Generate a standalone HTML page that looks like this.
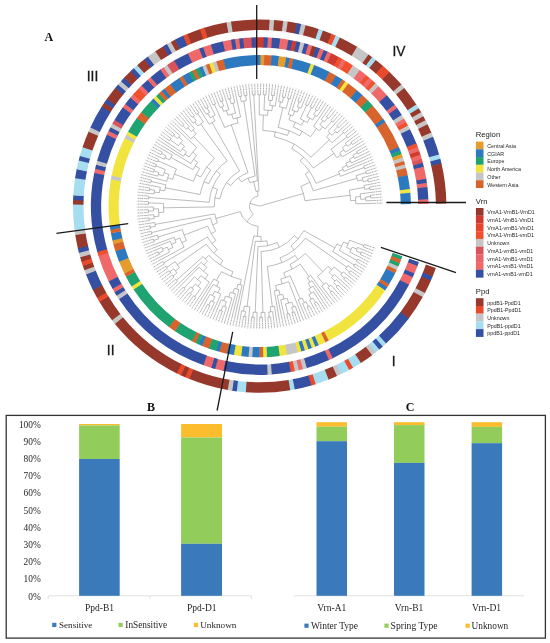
<!DOCTYPE html>
<html lang="en"><head><meta charset="utf-8"><title>Figure</title>
<style>
html,body{margin:0;padding:0;background:#fff;}
body{width:550px;height:643px;overflow:hidden;}
svg{display:block;font-family:"Liberation Sans",sans-serif;}
</style></head><body>
<svg width="550" height="643" viewBox="0 0 550 643">
<rect width="550" height="643" fill="#fff"/>
<g id="tree">
<path d="M259.7 206.1L249.9 203.4M253.3 213.9A10.1 10.1 0 0 1 258.2 196.1M253.3 213.9L246.9 221.8M258.1 226.3A20.2 20.2 0 0 1 240.2 211.6M258.1 226.3L257.3 236.4M260.9 236.4A30.4 30.4 0 0 1 253.8 235.9M260.9 236.4L261.1 241.5M266.8 240.8A35.4 35.4 0 0 1 255.3 241.2M266.8 240.8L267.8 245.8M277.2 242.6A40.5 40.5 0 0 1 258.0 246.6M277.2 242.6L279.4 247.2M294.4 235.6A45.5 45.5 0 0 1 261.1 251.6M294.4 235.6L298.2 238.9M303.9 230.7A50.6 50.6 0 0 1 291.0 245.9M303.9 230.7L334.9 247.9M336.9 244.0A86.0 86.0 0 0 1 332.7 251.6M336.9 244.0L341.5 246.2M343.5 241.9A91.1 91.1 0 0 1 339.3 250.5M343.5 241.9L348.1 243.8M349.6 240.2A96.2 96.2 0 0 1 346.5 247.5M349.6 240.2L363.8 245.5M364.3 244.3A111.3 111.3 0 0 1 363.3 246.8M364.3 244.3L369.0 246.0M363.3 246.8L368.0 248.7M346.5 247.5L351.1 249.6M352.2 247.1A101.2 101.2 0 0 1 349.8 252.1M352.2 247.1L356.9 249.2M357.6 247.4A106.3 106.3 0 0 1 356.1 250.9M357.6 247.4L367.0 251.3M356.1 250.9L360.7 253.1M361.2 251.8A111.3 111.3 0 0 1 360.1 254.3M361.2 251.8L365.8 253.9M360.1 254.3L364.6 256.5M349.8 252.1L363.4 259.0M339.3 250.5L356.9 260.3M357.6 259.1A111.3 111.3 0 0 1 356.3 261.5M357.6 259.1L362.0 261.5M356.3 261.5L360.7 264.0M332.7 251.6L354.2 265.0M354.9 263.8A111.3 111.3 0 0 1 353.5 266.2M354.9 263.8L359.2 266.5M353.5 266.2L357.7 268.9M291.0 245.9L294.1 249.9M305.3 238.1A55.7 55.7 0 0 1 280.0 257.9M305.3 238.1L346.7 267.2M347.8 265.6A106.3 106.3 0 0 1 345.5 268.8M347.8 265.6L356.2 271.3M345.5 268.8L349.6 271.8M350.4 270.7A111.3 111.3 0 0 1 348.8 272.9M350.4 270.7L354.5 273.6M348.8 272.9L352.9 275.9M280.0 257.9L281.9 262.6M295.1 255.4A60.7 60.7 0 0 1 267.3 266.4M295.1 255.4L298.1 259.5M305.4 253.5A65.8 65.8 0 0 1 290.0 264.5M305.4 253.5L322.9 271.7M328.0 266.4A91.1 91.1 0 0 1 317.5 276.5M328.0 266.4L331.7 269.8M334.1 267.0A96.2 96.2 0 0 1 329.3 272.5M334.1 267.0L342.0 273.4M343.2 271.9A106.3 106.3 0 0 1 340.7 274.9M343.2 271.9L351.1 278.1M340.7 274.9L344.6 278.2M345.4 277.1A111.3 111.3 0 0 1 343.7 279.2M345.4 277.1L349.3 280.4M343.7 279.2L347.5 282.5M329.3 272.5L332.9 276.0M334.4 274.4A101.2 101.2 0 0 1 331.4 277.5M334.4 274.4L345.6 284.6M331.4 277.5L335.0 281.1M336.4 279.7A106.3 106.3 0 0 1 333.6 282.5M336.4 279.7L343.7 286.7M333.6 282.5L337.1 286.1M338.1 285.1A111.3 111.3 0 0 1 336.2 287.0M338.1 285.1L341.7 288.7M336.2 287.0L339.6 290.7M317.5 276.5L323.9 284.4M326.0 282.6A101.2 101.2 0 0 1 321.7 286.1M326.0 282.6L329.3 286.4M330.8 285.1A106.3 106.3 0 0 1 327.8 287.7M330.8 285.1L337.5 292.6M327.8 287.7L331.1 291.6M332.1 290.7A111.3 111.3 0 0 1 330.0 292.4M332.1 290.7L335.4 294.5M330.0 292.4L333.2 296.3M321.7 286.1L331.0 298.1M290.0 264.5L292.3 269.0M300.3 264.2A70.9 70.9 0 0 1 283.8 272.7M300.3 264.2L309.0 276.6M310.7 275.4A86.0 86.0 0 0 1 307.2 277.8M310.7 275.4L328.7 299.8M307.2 277.8L310.0 282.0M311.9 280.7A91.1 91.1 0 0 1 308.1 283.3M311.9 280.7L326.4 301.5M308.1 283.3L310.8 287.6M312.9 286.2A96.2 96.2 0 0 1 308.7 288.9M312.9 286.2L324.1 303.1M308.7 288.9L311.2 293.2M313.6 291.8A101.2 101.2 0 0 1 308.8 294.6M313.6 291.8L321.7 304.6M308.8 294.6L311.3 299.0M313.0 298.1A106.3 106.3 0 0 1 309.6 300.0M313.0 298.1L315.5 302.4M316.7 301.8A111.3 111.3 0 0 1 314.3 303.1M316.7 301.8L319.3 306.1M314.3 303.1L316.8 307.5M309.6 300.0L314.3 308.9M283.8 272.7L285.5 277.5M290.1 275.7A75.9 75.9 0 0 1 280.8 279.0M290.1 275.7L300.2 298.8M302.2 298.0A101.2 101.2 0 0 1 298.2 299.7M302.2 298.0L304.3 302.6M306.1 301.7A106.3 106.3 0 0 1 302.6 303.4M306.1 301.7L308.3 306.3M309.5 305.7A111.3 111.3 0 0 1 307.1 306.9M309.5 305.7L311.8 310.2M307.1 306.9L309.2 311.4M302.6 303.4L306.6 312.6M298.2 299.7L304.0 313.7M280.8 279.0L282.2 283.9M288.7 281.7A81.0 81.0 0 0 1 275.6 285.5M288.7 281.7L301.4 314.8M275.6 285.5L276.6 290.5M278.9 290.0A86.0 86.0 0 0 1 274.3 290.9M278.9 290.0L280.0 294.9M282.7 294.3A91.1 91.1 0 0 1 277.4 295.5M282.7 294.3L283.9 299.2M287.2 298.2A96.2 96.2 0 0 1 280.7 299.9M287.2 298.2L288.6 303.1M291.9 302.1A101.2 101.2 0 0 1 285.4 304.0M291.9 302.1L293.5 306.9M295.3 306.2A106.3 106.3 0 0 1 291.6 307.5M295.3 306.2L298.7 315.8M291.6 307.5L293.2 312.3M294.5 311.9A111.3 111.3 0 0 1 291.9 312.7M294.5 311.9L296.0 316.7M291.9 312.7L293.3 317.5M285.4 304.0L287.9 313.8M289.2 313.4A111.3 111.3 0 0 1 286.6 314.1M289.2 313.4L290.6 318.3M286.6 314.1L287.8 319.0M280.7 299.9L285.1 319.7M277.4 295.5L282.3 320.3M274.3 290.9L279.5 320.8M267.3 266.4L272.3 306.5M274.5 306.2A101.2 101.2 0 0 1 270.2 306.8M274.5 306.2L276.7 321.3M270.2 306.8L270.7 311.8M272.6 311.6A106.3 106.3 0 0 1 268.8 312.0M272.6 311.6L273.9 321.6M268.8 312.0L269.2 317.0M270.6 316.9A111.3 111.3 0 0 1 267.9 317.1M270.6 316.9L271.1 321.9M267.9 317.1L268.2 322.2M261.1 251.6L262.9 312.3M264.9 312.3A106.3 106.3 0 0 1 261.0 312.4M264.9 312.3L265.4 322.4M261.0 312.4L261.1 317.4M262.4 317.4A111.3 111.3 0 0 1 259.7 317.4M262.4 317.4L262.5 322.5M259.7 317.4L259.7 322.5M258.0 246.6L255.2 312.3M257.1 312.3A106.3 106.3 0 0 1 253.2 312.2M257.1 312.3L256.9 322.5M253.2 312.2L252.9 317.2M254.3 317.3A111.3 111.3 0 0 1 251.6 317.1M254.3 317.3L254.0 322.4M251.6 317.1L251.2 322.2M255.3 241.2L247.1 306.5M249.8 306.8A101.2 101.2 0 0 1 244.3 306.1M249.8 306.8L248.4 321.9M244.3 306.1L243.5 311.1M245.5 311.4A106.3 106.3 0 0 1 241.6 310.8M245.5 311.4L244.8 316.4M246.1 316.6A111.3 111.3 0 0 1 243.5 316.2M246.1 316.6L245.5 321.6M243.5 316.2L242.7 321.3M241.6 310.8L239.9 320.8M253.8 235.9L237.1 320.3M240.2 211.6L215.9 218.5M217.4 222.9A45.5 45.5 0 0 1 214.8 213.9M217.4 222.9L212.7 224.8M215.7 231.1A50.6 50.6 0 0 1 210.5 218.1M215.7 231.1L211.3 233.6M215.9 240.5A55.7 55.7 0 0 1 207.7 226.1M215.9 240.5L211.9 243.6M217.3 249.6A60.7 60.7 0 0 1 207.4 237.0M217.3 249.6L213.8 253.2M222.9 260.6A65.8 65.8 0 0 1 206.1 244.3M222.9 260.6L220.1 264.8M233.0 271.7A70.9 70.9 0 0 1 208.8 255.4M233.0 271.7L231.1 276.4M241.3 279.7A75.9 75.9 0 0 1 221.5 271.7M241.3 279.7L240.0 284.6M242.1 285.1A81.0 81.0 0 0 1 238.0 284.1M242.1 285.1L234.3 319.7M238.0 284.1L236.7 289.0M238.9 289.6A86.0 86.0 0 0 1 234.4 288.3M238.9 289.6L231.6 319.0M234.4 288.3L232.9 293.2M235.5 293.9A91.1 91.1 0 0 1 230.3 292.3M235.5 293.9L228.8 318.3M230.3 292.3L228.7 297.1M231.9 298.2A96.2 96.2 0 0 1 225.5 296.0M231.9 298.2L226.1 317.5M225.5 296.0L223.7 300.7M226.4 301.7A101.2 101.2 0 0 1 221.2 299.7M226.4 301.7L224.7 306.4M226.5 307.1A106.3 106.3 0 0 1 222.9 305.8M226.5 307.1L223.4 316.7M222.9 305.8L221.1 310.5M222.4 311.0A111.3 111.3 0 0 1 219.8 310.1M222.4 311.0L220.7 315.8M219.8 310.1L218.0 314.8M221.2 299.7L215.4 313.7M221.5 271.7L216.4 280.4M218.9 281.9A86.0 86.0 0 0 1 213.9 278.9M218.9 281.9L216.5 286.3M220.1 288.1A91.1 91.1 0 0 1 213.1 284.4M220.1 288.1L217.9 292.7M220.9 294.1A96.2 96.2 0 0 1 214.8 291.2M220.9 294.1L212.8 312.6M214.8 291.2L212.5 295.6M215.0 296.9A101.2 101.2 0 0 1 210.0 294.3M215.0 296.9L212.7 301.4M214.5 302.3A106.3 106.3 0 0 1 211.0 300.6M214.5 302.3L210.2 311.4M211.0 300.6L208.7 305.1M209.9 305.7A111.3 111.3 0 0 1 207.5 304.4M209.9 305.7L207.6 310.2M207.5 304.4L205.1 308.9M210.0 294.3L202.6 307.5M213.1 284.4L200.1 306.1M213.9 278.9L197.7 304.6M208.8 255.4L205.2 259.0M207.5 261.2A75.9 75.9 0 0 1 203.1 256.6M207.5 261.2L204.0 264.8M206.8 267.4A81.0 81.0 0 0 1 201.3 262.2M206.8 267.4L203.5 271.2M208.1 274.9A86.0 86.0 0 0 1 199.1 267.2M208.1 274.9L205.1 279.0M209.3 282.0A91.1 91.1 0 0 1 201.0 275.7M209.3 282.0L195.3 303.1M201.0 275.7L197.7 279.6M201.0 282.3A96.2 96.2 0 0 1 194.5 276.8M201.0 282.3L197.9 286.3M200.7 288.3A101.2 101.2 0 0 1 195.3 284.2M200.7 288.3L194.8 296.5M195.9 297.3A111.3 111.3 0 0 1 193.7 295.7M195.9 297.3L193.0 301.5M193.7 295.7L190.7 299.8M195.3 284.2L192.1 288.1M193.6 289.3A106.3 106.3 0 0 1 190.6 286.8M193.6 289.3L190.4 293.3M191.5 294.1A111.3 111.3 0 0 1 189.4 292.4M191.5 294.1L188.4 298.1M189.4 292.4L186.2 296.3M190.6 286.8L184.0 294.5M194.5 276.8L184.2 288.0M185.2 288.9A111.3 111.3 0 0 1 183.2 287.0M185.2 288.9L181.9 292.6M183.2 287.0L179.8 290.7M199.1 267.2L177.7 288.7M201.3 262.2L175.7 286.7M203.1 256.6L176.6 280.2M177.5 281.2A111.3 111.3 0 0 1 175.7 279.2M177.5 281.2L173.8 284.6M175.7 279.2L171.9 282.5M206.1 244.3L177.2 264.8M179.4 267.8A101.2 101.2 0 0 1 175.1 261.7M179.4 267.8L175.4 270.9M177.0 272.9A106.3 106.3 0 0 1 173.9 268.8M177.0 272.9L173.1 276.1M174.0 277.1A111.3 111.3 0 0 1 172.3 275.0M174.0 277.1L170.1 280.4M172.3 275.0L168.3 278.1M173.9 268.8L169.8 271.8M170.6 272.9A111.3 111.3 0 0 1 169.0 270.7M170.6 272.9L166.5 275.9M169.0 270.7L164.9 273.6M175.1 261.7L166.7 267.3M167.4 268.4A111.3 111.3 0 0 1 165.9 266.2M167.4 268.4L163.2 271.3M165.9 266.2L161.7 268.9M207.4 237.0L163.8 262.7M164.5 263.9A111.3 111.3 0 0 1 163.1 261.5M164.5 263.9L160.2 266.5M163.1 261.5L158.7 264.0M207.7 226.1L184.1 235.1M186.4 240.5A81.0 81.0 0 0 1 182.2 229.6M186.4 240.5L181.8 242.6M184.1 247.1A86.0 86.0 0 0 1 179.8 238.0M184.1 247.1L157.4 261.5M179.8 238.0L175.1 239.9M176.1 242.4A91.1 91.1 0 0 1 174.1 237.3M176.1 242.4L171.5 244.4M172.9 247.5A96.2 96.2 0 0 1 170.2 241.3M172.9 247.5L168.3 249.6M169.6 252.1A101.2 101.2 0 0 1 167.2 247.1M169.6 252.1L156.0 259.0M167.2 247.1L162.5 249.2M163.3 250.9A106.3 106.3 0 0 1 161.8 247.4M163.3 250.9L158.8 253.1M159.3 254.3A111.3 111.3 0 0 1 158.2 251.8M159.3 254.3L154.8 256.5M158.2 251.8L153.6 253.9M161.8 247.4L152.4 251.3M170.2 241.3L151.4 248.7M174.1 237.3L150.4 246.0M182.2 229.6L158.0 237.0M158.6 238.9A106.3 106.3 0 0 1 157.5 235.1M158.6 238.9L153.8 240.4M154.2 241.7A111.3 111.3 0 0 1 153.4 239.1M154.2 241.7L149.4 243.3M153.4 239.1L148.5 240.6M157.5 235.1L147.7 237.9M210.5 218.1L151.6 232.6M151.9 233.9A111.3 111.3 0 0 1 151.2 231.3M151.9 233.9L147.0 235.2M151.2 231.3L146.3 232.4M214.8 213.9L155.0 224.4M155.4 226.3A106.3 106.3 0 0 1 154.7 222.5M155.4 226.3L150.4 227.3M150.7 228.6A111.3 111.3 0 0 1 150.1 225.9M150.7 228.6L145.7 229.6M150.1 225.9L145.2 226.8M154.7 222.5L144.7 224.0M258.2 196.1L257.5 191.1M256.0 191.4A15.2 15.2 0 0 1 258.9 190.9M256.0 191.4L253.6 181.5M249.9 182.8A25.3 25.3 0 0 1 257.4 180.9M249.9 182.8L247.9 178.1M241.4 181.8A30.4 30.4 0 0 1 255.1 176.1M241.4 181.8L238.4 177.8M230.8 185.6A35.4 35.4 0 0 1 248.0 172.7M230.8 185.6L226.7 182.7M219.9 198.8A40.5 40.5 0 0 1 239.6 170.9M219.9 198.8L214.9 197.9M214.2 206.9A45.5 45.5 0 0 1 217.4 189.3M214.2 206.9L163.6 207.8M163.7 212.2A96.2 96.2 0 0 1 163.6 203.4M163.7 212.2L158.7 212.5M159.0 216.2A101.2 101.2 0 0 1 158.5 208.8M159.0 216.2L153.9 216.7M154.2 218.6A106.3 106.3 0 0 1 153.8 214.7M154.2 218.6L149.1 219.2M149.3 220.6A111.3 111.3 0 0 1 149.0 217.9M149.3 220.6L144.3 221.2M149.0 217.9L144.0 218.4M153.8 214.7L143.7 215.6M158.5 208.8L153.5 208.9M153.5 210.9A106.3 106.3 0 0 1 153.4 207.0M153.5 210.9L148.5 211.1M148.5 212.4A111.3 111.3 0 0 1 148.4 209.7M148.5 212.4L143.5 212.7M148.4 209.7L143.4 209.9M153.4 207.0L143.3 207.1M163.6 203.4L148.4 202.9M148.4 204.3A111.3 111.3 0 0 1 148.5 201.6M148.4 204.3L143.3 204.2M148.5 201.6L143.4 201.4M217.4 189.3L212.7 187.4M209.2 202.2A50.6 50.6 0 0 1 220.4 174.3M209.2 202.2L148.7 197.5M148.6 198.9A111.3 111.3 0 0 1 148.8 196.1M148.6 198.9L143.5 198.5M148.8 196.1L143.8 195.7M220.4 174.3L216.4 171.1M208.7 183.7A55.7 55.7 0 0 1 227.2 160.9M208.7 183.7L204.1 181.7M200.1 194.5A60.7 60.7 0 0 1 210.8 170.1M200.1 194.5L165.3 187.8M164.8 190.8A96.2 96.2 0 0 1 165.9 184.8M164.8 190.8L159.8 190.0M159.4 192.8A101.2 101.2 0 0 1 160.3 187.3M159.4 192.8L154.3 192.1M154.1 194.0A106.3 106.3 0 0 1 154.6 190.2M154.1 194.0L144.1 192.9M154.6 190.2L149.6 189.4M149.4 190.7A111.3 111.3 0 0 1 149.8 188.1M149.4 190.7L144.4 190.0M149.8 188.1L144.8 187.2M160.3 187.3L145.3 184.4M165.9 184.8L151.1 181.4M150.8 182.7A111.3 111.3 0 0 1 151.4 180.1M150.8 182.7L145.9 181.7M151.4 180.1L146.5 178.9M210.8 170.1L206.7 167.1M200.7 177.0A65.8 65.8 0 0 1 214.4 158.4M200.7 177.0L196.2 174.7M193.4 181.2A70.9 70.9 0 0 1 199.6 168.5M193.4 181.2L174.4 174.1M172.6 179.3A91.1 91.1 0 0 1 176.5 169.0M172.6 179.3L167.8 177.8M166.8 181.3A96.2 96.2 0 0 1 168.9 174.3M166.8 181.3L147.2 176.1M168.9 174.3L164.2 172.7M163.1 175.9A101.2 101.2 0 0 1 165.3 169.5M163.1 175.9L158.3 174.4M157.7 176.2A106.3 106.3 0 0 1 158.9 172.5M157.7 176.2L148.0 173.4M158.9 172.5L154.1 170.9M153.6 172.2A111.3 111.3 0 0 1 154.5 169.6M153.6 172.2L148.8 170.7M154.5 169.6L149.7 168.0M165.3 169.5L155.9 165.8M155.4 167.1A111.3 111.3 0 0 1 156.4 164.5M155.4 167.1L150.7 165.3M156.4 164.5L151.7 162.7M176.5 169.0L158.0 160.8M157.5 162.0A111.3 111.3 0 0 1 158.6 159.6M157.5 162.0L152.8 160.0M158.6 159.6L154.0 157.4M199.6 168.5L195.3 165.9M193.1 169.6A75.9 75.9 0 0 1 197.7 162.3M193.1 169.6L170.9 157.4M169.6 159.9A101.2 101.2 0 0 1 172.3 155.0M169.6 159.9L165.1 157.6M164.3 159.3A106.3 106.3 0 0 1 166.0 155.9M164.3 159.3L155.2 154.9M166.0 155.9L161.6 153.5M161.0 154.7A111.3 111.3 0 0 1 162.2 152.3M161.0 154.7L156.5 152.3M162.2 152.3L157.8 149.8M172.3 155.0L159.2 147.4M197.7 162.3L193.6 159.3M190.8 163.5A81.0 81.0 0 0 1 196.6 155.3M190.8 163.5L160.7 144.9M196.6 155.3L192.7 152.1M189.1 157.0A86.0 86.0 0 0 1 196.7 147.5M189.1 157.0L184.9 154.1M183.4 156.3A91.1 91.1 0 0 1 186.5 151.9M183.4 156.3L162.2 142.5M186.5 151.9L182.4 148.9M180.5 151.6A96.2 96.2 0 0 1 184.5 146.2M180.5 151.6L163.8 140.2M184.5 146.2L180.5 143.1M178.4 145.7A101.2 101.2 0 0 1 182.7 140.4M178.4 145.7L170.3 139.7M169.5 140.8A111.3 111.3 0 0 1 171.1 138.6M169.5 140.8L165.4 137.8M171.1 138.6L167.1 135.6M182.7 140.4L178.8 137.1M177.6 138.6A106.3 106.3 0 0 1 180.1 135.7M177.6 138.6L173.7 135.4M172.8 136.5A111.3 111.3 0 0 1 174.5 134.4M172.8 136.5L168.9 133.3M174.5 134.4L170.7 131.1M180.1 135.7L172.5 129.0M196.7 147.5L174.4 126.9M214.4 158.4L193.5 136.4M190.9 138.9A96.2 96.2 0 0 1 196.2 133.9M190.9 138.9L176.4 124.8M196.2 133.9L192.9 130.1M191.2 131.5A101.2 101.2 0 0 1 194.5 128.7M191.2 131.5L187.8 127.8M186.4 129.1A106.3 106.3 0 0 1 189.3 126.5M186.4 129.1L182.9 125.5M181.9 126.4A111.3 111.3 0 0 1 183.9 124.5M181.9 126.4L178.4 122.8M183.9 124.5L180.5 120.8M189.3 126.5L182.6 118.9M194.5 128.7L184.7 117.1M227.2 160.9L200.6 123.9M197.9 126.0A101.2 101.2 0 0 1 203.4 122.0M197.9 126.0L194.8 122.0M193.2 123.2A106.3 106.3 0 0 1 196.3 120.8M193.2 123.2L186.9 115.3M196.3 120.8L193.3 116.7M192.2 117.5A111.3 111.3 0 0 1 194.4 115.9M192.2 117.5L189.2 113.5M194.4 115.9L191.4 111.8M203.4 122.0L197.7 113.6M196.6 114.4A111.3 111.3 0 0 1 198.9 112.8M196.6 114.4L193.8 110.2M198.9 112.8L196.1 108.6M239.6 170.9L212.1 122.6M209.2 124.3A96.2 96.2 0 0 1 215.0 121.0M209.2 124.3L198.5 107.1M215.0 121.0L212.7 116.5M210.2 117.8A101.2 101.2 0 0 1 215.1 115.2M210.2 117.8L207.7 113.4M206.1 114.4A106.3 106.3 0 0 1 209.5 112.4M206.1 114.4L201.0 105.6M209.5 112.4L207.1 108.0M205.9 108.6A111.3 111.3 0 0 1 208.3 107.4M205.9 108.6L203.4 104.2M208.3 107.4L205.9 102.9M215.1 115.2L208.5 101.6M248.0 172.7L231.3 124.9M224.7 127.5A86.0 86.0 0 0 1 238.1 122.8M224.7 127.5L214.4 104.4M213.1 105.0A111.3 111.3 0 0 1 215.6 103.9M213.1 105.0L211.0 100.4M215.6 103.9L213.6 99.2M238.1 122.8L236.8 117.9M233.2 119.0A91.1 91.1 0 0 1 240.6 117.0M233.2 119.0L231.7 114.1M227.9 115.3A96.2 96.2 0 0 1 235.5 113.0M227.9 115.3L226.3 110.6M223.6 111.5A101.2 101.2 0 0 1 228.9 109.7M223.6 111.5L221.8 106.8M220.0 107.5A106.3 106.3 0 0 1 223.7 106.1M220.0 107.5L216.2 98.1M223.7 106.1L221.9 101.4M220.7 101.8A111.3 111.3 0 0 1 223.2 100.9M220.7 101.8L218.9 97.1M223.2 100.9L221.6 96.1M228.9 109.7L224.3 95.2M235.5 113.0L233.0 103.2M231.1 103.7A106.3 106.3 0 0 1 234.8 102.8M231.1 103.7L229.7 98.9M228.4 99.2A111.3 111.3 0 0 1 231.0 98.5M228.4 99.2L227.0 94.4M231.0 98.5L229.7 93.6M234.8 102.8L232.5 92.9M240.6 117.0L235.2 92.3M255.1 176.1L243.8 101.0M241.2 101.4A106.3 106.3 0 0 1 246.3 100.7M241.2 101.4L240.3 96.5M239.0 96.7A111.3 111.3 0 0 1 241.7 96.2M239.0 96.7L238.0 91.7M241.7 96.2L240.8 91.2M246.3 100.7L245.7 95.6M244.3 95.8A111.3 111.3 0 0 1 247.0 95.5M244.3 95.8L243.6 90.8M247.0 95.5L246.5 90.5M257.4 180.9L249.3 90.2M258.9 190.9L253.8 94.9M252.5 95.0A111.3 111.3 0 0 1 255.2 94.9M252.5 95.0L252.1 89.9M255.2 94.9L255.0 89.8M259.7 206.1L303.5 193.4M300.8 186.5A45.5 45.5 0 0 1 304.9 200.7M300.8 186.5L310.0 182.1M305.3 174.1A55.7 55.7 0 0 1 313.2 190.8M305.3 174.1L309.4 171.2M300.2 160.9A60.7 60.7 0 0 1 316.0 183.3M300.2 160.9L303.6 157.1M291.7 148.6A65.8 65.8 0 0 1 313.3 168.0M291.7 148.6L294.2 144.2M274.3 136.8A70.9 70.9 0 0 1 311.0 157.2M274.3 136.8L275.3 131.8M262.8 130.3A75.9 75.9 0 0 1 287.4 135.4M262.8 130.3L263.4 115.1M259.3 115.0A91.1 91.1 0 0 1 267.5 115.3M259.3 115.0L259.2 94.8M257.9 94.8A111.3 111.3 0 0 1 260.6 94.8M257.9 94.8L257.8 89.7M260.6 94.8L260.6 89.7M267.5 115.3L268.0 110.3M264.0 110.0A96.2 96.2 0 0 1 271.9 110.7M264.0 110.0L264.7 94.9M263.3 94.8A111.3 111.3 0 0 1 266.0 94.9M263.3 94.8L263.5 89.8M266.0 94.9L266.3 89.9M271.9 110.7L272.5 105.7M269.8 105.4A101.2 101.2 0 0 1 275.3 106.1M269.8 105.4L270.3 100.3M268.3 100.2A106.3 106.3 0 0 1 272.2 100.6M268.3 100.2L269.2 90.1M272.2 100.6L272.8 95.5M271.5 95.4A111.3 111.3 0 0 1 274.2 95.7M271.5 95.4L272.0 90.4M274.2 95.7L274.8 90.7M275.3 106.1L277.6 91.1M287.4 135.4L289.3 130.7M278.2 127.3A81.0 81.0 0 0 1 299.7 135.7M278.2 127.3L282.9 107.6M279.5 106.8A101.2 101.2 0 0 1 286.2 108.4M279.5 106.8L280.5 101.9M278.6 101.5A106.3 106.3 0 0 1 282.4 102.3M278.6 101.5L280.4 91.6M282.4 102.3L283.5 97.3M282.2 97.1A111.3 111.3 0 0 1 284.9 97.6M282.2 97.1L283.2 92.1M284.9 97.6L286.0 92.7M286.2 108.4L288.8 98.6M287.5 98.3A111.3 111.3 0 0 1 290.1 99.0M287.5 98.3L288.8 93.4M290.1 99.0L291.5 94.1M299.7 135.7L302.2 131.3M293.3 126.9A86.0 86.0 0 0 1 310.5 136.7M293.3 126.9L295.3 122.3M289.0 119.8A91.1 91.1 0 0 1 301.5 125.2M289.0 119.8L290.6 115.0M288.2 114.3A96.2 96.2 0 0 1 292.9 115.9M288.2 114.3L294.2 94.9M292.9 115.9L294.7 111.1M292.1 110.2A101.2 101.2 0 0 1 297.3 112.1M292.1 110.2L296.9 95.8M297.3 112.1L299.2 107.4M297.4 106.7A106.3 106.3 0 0 1 301.0 108.2M297.4 106.7L299.1 102.0M297.9 101.5A111.3 111.3 0 0 1 300.4 102.5M297.9 101.5L299.6 96.8M300.4 102.5L302.3 97.8M301.0 108.2L304.9 98.8M301.5 125.2L303.8 120.7M300.3 118.9A96.2 96.2 0 0 1 307.3 122.5M300.3 118.9L306.7 105.1M305.4 104.6A111.3 111.3 0 0 1 307.9 105.7M305.4 104.6L307.5 100.0M307.9 105.7L310.1 101.2M307.3 122.5L309.8 118.2M306.8 116.5A101.2 101.2 0 0 1 312.7 119.9M306.8 116.5L311.5 107.6M310.3 106.9A111.3 111.3 0 0 1 312.7 108.2M310.3 106.9L312.6 102.4M312.7 108.2L315.1 103.8M312.7 119.9L315.4 115.6M313.7 114.6A106.3 106.3 0 0 1 317.0 116.6M313.7 114.6L316.3 110.2M315.1 109.5A111.3 111.3 0 0 1 317.4 110.9M315.1 109.5L317.6 105.1M317.4 110.9L320.1 106.6M317.0 116.6L322.5 108.1M310.5 136.7L316.5 128.5M313.5 126.4A96.2 96.2 0 0 1 319.4 130.8M313.5 126.4L324.9 109.6M319.4 130.8L322.6 126.8M319.9 124.7A101.2 101.2 0 0 1 325.2 128.9M319.9 124.7L322.9 120.7M321.3 119.5A106.3 106.3 0 0 1 324.5 121.8M321.3 119.5L327.2 111.3M324.5 121.8L327.5 117.8M326.5 117.0A111.3 111.3 0 0 1 328.6 118.6M326.5 117.0L329.5 112.9M328.6 118.6L331.7 114.7M325.2 128.9L331.8 121.2M330.7 120.4A111.3 111.3 0 0 1 332.8 122.1M330.7 120.4L334.0 116.5M332.8 122.1L336.1 118.3M311.0 157.2L329.3 139.8M326.5 136.9A96.2 96.2 0 0 1 332.0 142.7M326.5 136.9L330.0 133.3M328.0 131.4A101.2 101.2 0 0 1 332.0 135.3M328.0 131.4L338.2 120.2M332.0 135.3L335.6 131.7M334.2 130.3A106.3 106.3 0 0 1 337.0 133.1M334.2 130.3L337.8 126.7M336.8 125.8A111.3 111.3 0 0 1 338.7 127.7M336.8 125.8L340.3 122.1M338.7 127.7L342.3 124.1M337.0 133.1L344.3 126.2M332.0 142.7L343.4 132.7M342.5 131.6A111.3 111.3 0 0 1 344.3 133.7M342.5 131.6L346.2 128.3M344.3 133.7L348.1 130.4M313.3 168.0L334.0 153.4M331.0 149.4A91.1 91.1 0 0 1 336.7 157.5M331.0 149.4L346.9 136.8M346.0 135.8A111.3 111.3 0 0 1 347.7 137.9M346.0 135.8L349.9 132.6M347.7 137.9L351.7 134.8M336.7 157.5L341.0 154.8M339.7 152.7A96.2 96.2 0 0 1 342.3 156.9M339.7 152.7L343.9 149.9M342.3 147.6A101.2 101.2 0 0 1 345.4 152.2M342.3 147.6L346.4 144.6M345.3 143.1A106.3 106.3 0 0 1 347.5 146.2M345.3 143.1L353.4 137.1M347.5 146.2L351.7 143.4M350.9 142.3A111.3 111.3 0 0 1 352.5 144.5M350.9 142.3L355.1 139.4M352.5 144.5L356.7 141.7M345.4 152.2L358.2 144.1M342.3 156.9L359.7 146.5M316.0 183.3L339.5 173.9M338.5 171.5A86.0 86.0 0 0 1 340.4 176.3M338.5 171.5L343.1 169.4M342.2 167.5A91.1 91.1 0 0 1 343.9 171.4M342.2 167.5L346.8 165.3M345.8 163.3A96.2 96.2 0 0 1 347.7 167.3M345.8 163.3L350.4 161.1M349.4 159.2A101.2 101.2 0 0 1 351.3 163.0M349.4 159.2L353.9 156.8M352.9 155.1A106.3 106.3 0 0 1 354.7 158.5M352.9 155.1L357.4 152.7M356.7 151.5A111.3 111.3 0 0 1 358.0 153.9M356.7 151.5L361.1 149.0M358.0 153.9L362.5 151.5M354.7 158.5L363.8 154.0M351.3 163.0L365.0 156.6M347.7 167.3L366.2 159.2M343.9 171.4L367.3 161.8M340.4 176.3L364.1 167.5M363.7 166.2A111.3 111.3 0 0 1 364.6 168.8M363.7 166.2L368.4 164.4M364.6 168.8L369.4 167.1M313.2 190.8L357.0 178.3M356.2 175.7A101.2 101.2 0 0 1 357.8 181.0M356.2 175.7L365.9 172.6M365.5 171.3A111.3 111.3 0 0 1 366.3 173.9M365.5 171.3L370.3 169.8M366.3 173.9L371.1 172.5M357.8 181.0L362.7 179.8M362.2 177.9A106.3 106.3 0 0 1 363.1 181.7M362.2 177.9L371.9 175.2M363.1 181.7L368.1 180.5M367.7 179.2A111.3 111.3 0 0 1 368.4 181.8M367.7 179.2L372.6 178.0M368.4 181.8L373.3 180.7M304.9 200.7L350.2 195.3M349.4 190.1A91.1 91.1 0 0 1 350.6 200.7M349.4 190.1L364.3 187.4M364.0 185.5A106.3 106.3 0 0 1 364.6 189.3M364.0 185.5L373.9 183.5M364.6 189.3L369.6 188.5M369.4 187.2A111.3 111.3 0 0 1 369.8 189.8M369.4 187.2L374.4 186.3M369.8 189.8L374.9 189.1M350.6 200.7L355.7 200.4M355.4 197.0A96.2 96.2 0 0 1 355.8 203.8M355.4 197.0L360.5 196.5M360.2 193.8A101.2 101.2 0 0 1 360.7 199.3M360.2 193.8L375.2 191.9M360.7 199.3L365.7 199.0M365.6 197.0A106.3 106.3 0 0 1 365.9 200.9M365.6 197.0L370.6 196.6M370.5 195.2A111.3 111.3 0 0 1 370.7 197.9M370.5 195.2L375.5 194.7M370.7 197.9L375.8 197.6M365.9 200.9L376.0 200.4M355.8 203.8L376.1 203.3" fill="none" stroke="#858585" stroke-width="0.55"/>
<path d="M369.5 246.2L375.2 248.2M368.5 248.8L374.1 251.0M367.4 251.5L373.0 253.8M366.3 254.1L371.8 256.6M365.1 256.7L370.5 259.3M363.8 259.3L369.2 262.0M362.5 261.8L367.8 264.6M361.1 264.3L366.3 267.3M359.6 266.7L364.8 269.8M358.1 269.2L363.2 272.4M356.6 271.5L361.5 274.9M354.9 273.9L359.8 277.4M353.3 276.2L358.1 279.8M351.5 278.5L356.2 282.2M349.7 280.7L354.3 284.5M347.9 282.8L352.4 286.8M346.0 285.0L350.4 289.0M344.0 287.1L348.4 291.2M342.0 289.1L346.3 293.4M340.0 291.1L344.1 295.4M337.9 293.0L341.9 297.5M335.7 294.9L339.6 299.5M333.5 296.7L337.3 301.4M331.3 298.5L335.0 303.2M329.0 300.2L332.6 305.1M326.7 301.9L330.2 306.8M324.4 303.5L327.7 308.5M322.0 305.0L325.2 310.1M319.5 306.5L322.6 311.7M317.1 308.0L320.0 313.2M314.5 309.3L317.4 314.6M312.0 310.6L314.7 316.0M309.4 311.9L312.0 317.3M306.8 313.1L309.3 318.6M304.2 314.2L306.5 319.7M301.6 315.2L303.7 320.8M298.9 316.2L300.9 321.9M296.2 317.2L298.1 322.9M293.5 318.0L295.2 323.8M290.7 318.8L292.3 324.6M288.0 319.5L289.4 325.4M285.2 320.2L286.5 326.0M282.4 320.8L283.6 326.7M279.6 321.3L280.6 327.2M276.8 321.7L277.6 327.7M273.9 322.1L274.7 328.1M271.1 322.4L271.7 328.4M268.3 322.7L268.7 328.7M265.4 322.9L265.7 328.9M262.6 323.0L262.7 329.0M259.7 323.0L259.7 329.0M256.8 323.0L256.7 329.0M254.0 322.9L253.7 328.9M251.1 322.7L250.7 328.7M248.3 322.4L247.7 328.4M245.5 322.1L244.7 328.1M242.6 321.7L241.8 327.7M239.8 321.3L238.8 327.2M237.0 320.8L235.8 326.7M234.2 320.2L232.9 326.0M231.4 319.5L230.0 325.4M228.7 318.8L227.1 324.6M225.9 318.0L224.2 323.8M223.2 317.2L221.3 322.9M220.5 316.2L218.5 321.9M217.8 315.2L215.7 320.9M215.2 314.2L212.9 319.7M212.6 313.1L210.1 318.6M210.0 311.9L207.4 317.3M207.4 310.6L204.7 316.0M204.9 309.3L202.0 314.6M202.4 308.0L199.4 313.2M199.9 306.5L196.8 311.7M197.5 305.0L194.3 310.1M195.1 303.5L191.7 308.5M192.7 301.9L189.3 306.8M190.4 300.2L186.8 305.1M188.1 298.5L184.4 303.2M185.9 296.7L182.1 301.4M183.7 294.9L179.8 299.5M181.5 293.0L177.5 297.5M179.4 291.1L175.3 295.4M177.4 289.1L173.2 293.4M175.4 287.1L171.0 291.2M173.4 285.0L169.0 289.0M171.5 282.9L167.0 286.8M169.7 280.7L165.1 284.5M167.9 278.5L163.2 282.2M166.1 276.2L161.3 279.8M164.5 273.9L159.6 277.4M162.8 271.5L157.9 274.9M161.3 269.2L156.2 272.4M159.8 266.7L154.6 269.8M158.3 264.3L153.1 267.3M156.9 261.8L151.6 264.6M155.6 259.3L150.2 262.0M154.3 256.7L148.9 259.3M153.1 254.1L147.6 256.6M152.0 251.5L146.4 253.8M150.9 248.9L145.3 251.0M149.9 246.2L144.3 248.2M148.9 243.5L143.3 245.4M148.1 240.8L142.3 242.6M147.2 238.0L141.5 239.7M146.5 235.3L140.7 236.8M145.8 232.5L140.0 233.9M145.2 229.7L139.3 230.9M144.7 226.9L138.8 228.0M144.2 224.1L138.3 225.0M143.8 221.3L137.8 222.1M143.5 218.4L137.5 219.1M143.2 215.6L137.2 216.1M143.0 212.8L137.0 213.1M142.9 209.9L136.9 210.1M142.8 207.1L136.8 207.1M142.8 204.2L136.8 204.1M142.9 201.3L136.9 201.1M143.0 198.5L137.1 198.1M143.3 195.7L137.3 195.1M143.6 192.8L137.6 192.1M143.9 190.0L138.0 189.2M144.3 187.2L138.4 186.2M144.8 184.3L138.9 183.2M145.4 181.5L139.5 180.3M146.0 178.8L140.2 177.4M146.7 176.0L140.9 174.5M147.5 173.3L141.8 171.6M148.3 170.5L142.6 168.7M149.2 167.8L143.6 165.8M150.2 165.1L144.6 163.0M151.2 162.5L145.7 160.2M152.3 159.8L146.8 157.5M153.5 157.2L148.1 154.7M154.7 154.6L149.3 152.0M156.0 152.1L150.7 149.3M157.4 149.6L152.1 146.7M158.8 147.1L153.6 144.1M160.2 144.7L155.1 141.5M161.8 142.2L156.8 139.0M163.4 139.9L158.4 136.5M165.0 137.5L160.2 134.0M166.7 135.3L161.9 131.6M168.5 133.0L163.8 129.3M170.3 130.8L165.7 126.9M172.1 128.6L167.7 124.7M174.1 126.5L169.7 122.4M176.0 124.5L171.7 120.3M178.1 122.4L173.9 118.1M180.1 120.5L176.0 116.1M182.2 118.6L178.3 114.1M184.4 116.7L180.5 112.1M186.6 114.9L182.8 110.2M188.8 113.1L185.2 108.3M191.1 111.4L187.6 106.6M193.5 109.8L190.1 104.8M195.8 108.2L192.6 103.2M198.3 106.7L195.1 101.5M200.7 105.2L197.7 100.0M203.2 103.8L200.3 98.5M205.7 102.4L202.9 97.1M208.2 101.1L205.6 95.7M210.8 99.9L208.3 94.5M213.4 98.7L211.1 93.2M216.1 97.6L213.8 92.1M218.7 96.6L216.6 91.0M221.4 95.6L219.4 90.0M224.1 94.7L222.3 89.0M226.8 93.9L225.2 88.2M229.6 93.1L228.0 87.3M232.4 92.4L231.0 86.6M235.1 91.8L233.9 85.9M237.9 91.2L236.8 85.3M240.8 90.7L239.8 84.8M243.6 90.3L242.7 84.4M246.4 90.0L245.7 84.0M249.2 89.7L248.7 83.7M252.1 89.4L251.7 83.5M254.9 89.3L254.7 83.3M257.8 89.2L257.7 83.2M260.6 89.2L260.7 83.2M263.5 89.3L263.7 83.3M266.4 89.4L266.7 83.4M269.2 89.6L269.7 83.6M272.0 89.9L272.7 83.9M274.9 90.2L275.7 84.2M277.7 90.6L278.6 84.7M280.5 91.1L281.6 85.2M283.3 91.6L284.5 85.7M286.1 92.2L287.5 86.4M288.9 92.9L290.4 87.1M291.6 93.6L293.3 87.9M294.4 94.5L296.2 88.7M297.1 95.3L299.0 89.7M299.8 96.3L301.8 90.6M302.4 97.3L304.6 91.7M305.1 98.4L307.4 92.8M307.7 99.5L310.2 94.0M310.3 100.7L312.9 95.3M312.9 102.0L315.6 96.6M315.4 103.3L318.2 98.0M317.9 104.7L320.9 99.5M320.3 106.2L323.4 101.0M322.8 107.7L326.0 102.6M325.1 109.2L328.5 104.3M327.5 110.9L331.0 106.0M329.8 112.5L333.4 107.7M332.1 114.3L335.8 109.6M334.3 116.1L338.1 111.5M336.4 117.9L340.4 113.4M338.6 119.8L342.6 115.4M340.7 121.8L344.8 117.4M342.7 123.8L347.0 119.5M344.7 125.8L349.0 121.7M346.6 127.9L351.1 123.9M348.5 130.1L353.1 126.2M350.3 132.3L355.0 128.5M352.1 134.5L356.8 130.8M353.8 136.8L358.7 133.2M355.5 139.1L360.4 135.7M357.1 141.4L362.1 138.1M358.6 143.8L363.7 140.7M360.1 146.3L365.3 143.2M361.6 148.8L366.8 145.8M362.9 151.3L368.2 148.4M364.2 153.8L369.6 151.1M365.5 156.4L370.9 153.8M366.7 159.0L372.2 156.5M367.8 161.6L373.3 159.3M368.8 164.2L374.4 162.1M369.8 166.9L375.5 164.9M370.8 169.6L376.5 167.7M371.6 172.3L377.4 170.6M372.4 175.1L378.2 173.5M373.1 177.8L379.0 176.4M373.8 180.6L379.6 179.3M374.4 183.4L380.3 182.2M374.9 186.2L380.8 185.2M375.3 189.0L381.3 188.2M375.7 191.9L381.7 191.1M376.0 194.7L382.0 194.1M376.3 197.5L382.3 197.1M376.5 200.4L382.5 200.1M376.6 203.2L382.6 203.1" fill="none" stroke="#a2a2a2" stroke-width="0.9" stroke-dasharray="1.6 0.5 0.9 0.5"/>
</g>
<g id="rings">
<path d="M402.34 256.25A151.2 151.2 0 0 1 400.93 260.11L391.40 256.46A141.0 141.0 0 0 0 392.72 252.87Z" fill="#1FA370"/>
<path d="M401.08 259.71A151.2 151.2 0 0 1 399.57 263.54L390.13 259.66A141.0 141.0 0 0 0 391.54 256.10Z" fill="#D7642D"/>
<path d="M399.73 263.15A151.2 151.2 0 0 1 398.12 266.93L388.78 262.83A141.0 141.0 0 0 0 390.28 259.30Z" fill="#1FA370"/>
<path d="M398.29 266.55A151.2 151.2 0 0 1 396.60 270.29L387.36 265.96A141.0 141.0 0 0 0 388.94 262.47Z" fill="#C6C6C6"/>
<path d="M396.78 269.91A151.2 151.2 0 0 1 394.99 273.61L385.86 269.06A141.0 141.0 0 0 0 387.53 265.61Z" fill="#D7642D"/>
<path d="M395.18 273.24A151.2 151.2 0 0 1 388.97 284.53L380.25 279.24A141.0 141.0 0 0 0 386.04 268.71Z" fill="#2C79BF"/>
<path d="M389.19 284.17A151.2 151.2 0 0 1 387.01 287.66L378.43 282.16A141.0 141.0 0 0 0 380.45 278.90Z" fill="#D7642D"/>
<path d="M387.24 287.31A151.2 151.2 0 0 1 384.99 290.74L376.53 285.03A141.0 141.0 0 0 0 378.64 281.83Z" fill="#2C79BF"/>
<path d="M385.22 290.39A151.2 151.2 0 0 1 328.41 340.79L323.77 331.70A141.0 141.0 0 0 0 376.75 284.71Z" fill="#F1E43E"/>
<path d="M328.79 340.59A151.2 151.2 0 0 1 325.10 342.42L320.69 333.23A141.0 141.0 0 0 0 324.12 331.52Z" fill="#D7642D"/>
<path d="M325.48 342.24A151.2 151.2 0 0 1 318.37 345.45L314.42 336.05A141.0 141.0 0 0 0 321.05 333.06Z" fill="#F1E43E"/>
<path d="M318.76 345.29A151.2 151.2 0 0 1 314.96 346.84L311.23 337.35A141.0 141.0 0 0 0 314.78 335.90Z" fill="#2C79BF"/>
<path d="M315.35 346.69A151.2 151.2 0 0 1 311.51 348.15L308.01 338.57A141.0 141.0 0 0 0 311.60 337.20Z" fill="#F1E43E"/>
<path d="M311.90 348.00A151.2 151.2 0 0 1 308.02 349.37L304.76 339.70A141.0 141.0 0 0 0 308.38 338.43Z" fill="#2C79BF"/>
<path d="M308.42 349.23A151.2 151.2 0 0 1 304.51 350.51L301.49 340.76A141.0 141.0 0 0 0 305.14 339.58Z" fill="#F1E43E"/>
<path d="M304.92 350.38A151.2 151.2 0 0 1 300.98 351.56L298.19 341.74A141.0 141.0 0 0 0 301.87 340.65Z" fill="#2C79BF"/>
<path d="M301.38 351.44A151.2 151.2 0 0 1 297.42 352.52L294.87 342.64A141.0 141.0 0 0 0 298.57 341.64Z" fill="#F1E43E"/>
<path d="M297.83 352.41A151.2 151.2 0 0 1 286.61 354.89L284.79 344.85A141.0 141.0 0 0 0 295.25 342.54Z" fill="#C6C6C6"/>
<path d="M287.02 354.81A151.2 151.2 0 0 1 279.32 356.02L277.99 345.91A141.0 141.0 0 0 0 285.18 344.78Z" fill="#F1E43E"/>
<path d="M279.73 355.97A151.2 151.2 0 0 1 266.59 357.14L266.12 346.95A141.0 141.0 0 0 0 278.38 345.86Z" fill="#1FA370"/>
<path d="M267.01 357.12A151.2 151.2 0 0 1 262.90 357.27L262.69 347.07A141.0 141.0 0 0 0 266.52 346.94Z" fill="#F1E43E"/>
<path d="M263.32 357.26A151.2 151.2 0 0 1 259.21 357.30L259.25 347.10A141.0 141.0 0 0 0 263.08 347.06Z" fill="#D7642D"/>
<path d="M259.63 357.30A151.2 151.2 0 0 1 251.84 357.10L252.37 346.91A141.0 141.0 0 0 0 259.64 347.10Z" fill="#2C79BF"/>
<path d="M252.26 357.12A151.2 151.2 0 0 1 248.15 356.86L248.93 346.69A141.0 141.0 0 0 0 252.76 346.93Z" fill="#C6C6C6"/>
<path d="M248.58 356.89A151.2 151.2 0 0 1 240.81 356.12L242.09 346.00A141.0 141.0 0 0 0 249.33 346.72Z" fill="#2C79BF"/>
<path d="M241.23 356.17A151.2 151.2 0 0 1 233.52 355.02L235.28 344.97A141.0 141.0 0 0 0 242.48 346.04Z" fill="#F1E43E"/>
<path d="M233.93 355.09A151.2 151.2 0 0 1 226.28 353.56L228.54 343.61A141.0 141.0 0 0 0 235.67 345.04Z" fill="#2C79BF"/>
<path d="M226.70 353.65A151.2 151.2 0 0 1 219.13 351.76L221.87 341.93A141.0 141.0 0 0 0 228.92 343.70Z" fill="#D7642D"/>
<path d="M219.54 351.87A151.2 151.2 0 0 1 215.59 350.72L218.56 340.97A141.0 141.0 0 0 0 222.25 342.03Z" fill="#2C79BF"/>
<path d="M215.99 350.84A151.2 151.2 0 0 1 208.58 348.40L212.03 338.80A141.0 141.0 0 0 0 218.94 341.08Z" fill="#1FA370"/>
<path d="M208.98 348.54A151.2 151.2 0 0 1 201.70 345.73L205.62 336.32A141.0 141.0 0 0 0 212.40 338.93Z" fill="#D7642D"/>
<path d="M202.09 345.90A151.2 151.2 0 0 1 198.31 344.28L202.46 334.96A141.0 141.0 0 0 0 205.98 336.47Z" fill="#2C79BF"/>
<path d="M198.70 344.45A151.2 151.2 0 0 1 194.96 342.74L199.33 333.52A141.0 141.0 0 0 0 202.82 335.12Z" fill="#1FA370"/>
<path d="M195.34 342.92A151.2 151.2 0 0 1 191.65 341.12L196.24 332.01A141.0 141.0 0 0 0 199.68 333.69Z" fill="#D7642D"/>
<path d="M192.02 341.31A151.2 151.2 0 0 1 174.62 331.09L180.36 322.66A141.0 141.0 0 0 0 196.59 332.19Z" fill="#1FA370"/>
<path d="M174.97 331.33A151.2 151.2 0 0 1 168.62 326.79L174.77 318.65A141.0 141.0 0 0 0 180.68 322.88Z" fill="#D7642D"/>
<path d="M168.96 327.04A151.2 151.2 0 0 1 133.36 289.17L141.88 283.56A141.0 141.0 0 0 0 175.08 318.89Z" fill="#1FA370"/>
<path d="M133.59 289.52A151.2 151.2 0 0 1 131.37 286.06L140.03 280.66A141.0 141.0 0 0 0 142.10 283.89Z" fill="#F1E43E"/>
<path d="M131.60 286.42A151.2 151.2 0 0 1 125.87 276.46L134.90 271.71A141.0 141.0 0 0 0 140.24 281.00Z" fill="#1FA370"/>
<path d="M126.06 276.83A151.2 151.2 0 0 1 124.19 273.17L133.33 268.65A141.0 141.0 0 0 0 135.08 272.06Z" fill="#D7642D"/>
<path d="M124.38 273.55A151.2 151.2 0 0 1 118.93 261.29L128.43 257.57A141.0 141.0 0 0 0 133.51 269.00Z" fill="#E39C2D"/>
<path d="M119.09 261.68A151.2 151.2 0 0 1 115.27 250.85L125.02 247.83A141.0 141.0 0 0 0 128.57 257.93Z" fill="#2C79BF"/>
<path d="M115.40 251.25A151.2 151.2 0 0 1 113.26 243.75L123.14 241.21A141.0 141.0 0 0 0 125.13 248.20Z" fill="#D7642D"/>
<path d="M113.37 244.16A151.2 151.2 0 0 1 112.39 240.16L122.32 237.87A141.0 141.0 0 0 0 123.24 241.59Z" fill="#E39C2D"/>
<path d="M112.48 240.57A151.2 151.2 0 0 1 110.90 232.94L120.94 231.13A141.0 141.0 0 0 0 122.41 238.25Z" fill="#2C79BF"/>
<path d="M110.98 233.35A151.2 151.2 0 0 1 110.29 229.30L120.37 227.73A141.0 141.0 0 0 0 121.01 231.51Z" fill="#D7642D"/>
<path d="M110.36 229.71A151.2 151.2 0 0 1 109.77 225.64L119.88 224.33A141.0 141.0 0 0 0 120.43 228.12Z" fill="#2C79BF"/>
<path d="M109.82 226.06A151.2 151.2 0 0 1 110.95 178.97L120.99 180.80A141.0 141.0 0 0 0 119.93 224.72Z" fill="#F1E43E"/>
<path d="M110.88 179.39A151.2 151.2 0 0 1 111.66 175.35L121.65 177.42A141.0 141.0 0 0 0 120.92 181.19Z" fill="#C6C6C6"/>
<path d="M111.57 175.76A151.2 151.2 0 0 1 124.78 137.85L133.88 142.45A141.0 141.0 0 0 0 121.57 177.81Z" fill="#F1E43E"/>
<path d="M124.59 138.23A151.2 151.2 0 0 1 126.49 134.58L135.47 139.40A141.0 141.0 0 0 0 133.71 142.80Z" fill="#C6C6C6"/>
<path d="M126.29 134.95A151.2 151.2 0 0 1 128.27 131.35L137.14 136.39A141.0 141.0 0 0 0 135.29 139.75Z" fill="#F1E43E"/>
<path d="M128.06 131.71A151.2 151.2 0 0 1 136.95 117.81L145.23 123.77A141.0 141.0 0 0 0 136.94 136.73Z" fill="#1FA370"/>
<path d="M136.71 118.16A151.2 151.2 0 0 1 141.41 111.93L149.39 118.28A141.0 141.0 0 0 0 145.00 124.09Z" fill="#D7642D"/>
<path d="M141.14 112.26A151.2 151.2 0 0 1 151.11 100.89L158.43 107.99A141.0 141.0 0 0 0 149.14 118.59Z" fill="#1FA370"/>
<path d="M150.82 101.19A151.2 151.2 0 0 1 153.71 98.27L160.86 105.54A141.0 141.0 0 0 0 158.16 108.27Z" fill="#2C79BF"/>
<path d="M153.41 98.57A151.2 151.2 0 0 1 156.37 95.72L163.34 103.16A141.0 141.0 0 0 0 160.58 105.82Z" fill="#F1E43E"/>
<path d="M156.06 96.01A151.2 151.2 0 0 1 159.10 93.23L165.88 100.84A141.0 141.0 0 0 0 163.05 103.43Z" fill="#1FA370"/>
<path d="M158.78 93.51A151.2 151.2 0 0 1 161.88 90.81L168.48 98.58A141.0 141.0 0 0 0 165.59 101.10Z" fill="#D7642D"/>
<path d="M161.56 91.08A151.2 151.2 0 0 1 164.72 88.45L171.13 96.39A141.0 141.0 0 0 0 168.18 98.84Z" fill="#2C79BF"/>
<path d="M164.39 88.72A151.2 151.2 0 0 1 170.57 83.96L176.59 92.20A141.0 141.0 0 0 0 170.82 96.64Z" fill="#D7642D"/>
<path d="M170.23 84.21A151.2 151.2 0 0 1 179.75 77.77L185.14 86.43A141.0 141.0 0 0 0 176.27 92.43Z" fill="#2C79BF"/>
<path d="M179.39 77.99A151.2 151.2 0 0 1 182.90 75.86L188.08 84.64A141.0 141.0 0 0 0 184.81 86.64Z" fill="#D7642D"/>
<path d="M182.54 76.07A151.2 151.2 0 0 1 189.35 72.26L194.09 81.29A141.0 141.0 0 0 0 187.74 84.84Z" fill="#2C79BF"/>
<path d="M188.97 72.46A151.2 151.2 0 0 1 192.63 70.59L197.16 79.73A141.0 141.0 0 0 0 193.74 81.48Z" fill="#1FA370"/>
<path d="M192.25 70.78A151.2 151.2 0 0 1 195.96 68.99L200.26 78.24A141.0 141.0 0 0 0 196.80 79.90Z" fill="#D7642D"/>
<path d="M195.58 69.17A151.2 151.2 0 0 1 199.32 67.48L203.40 76.83A141.0 141.0 0 0 0 199.90 78.41Z" fill="#1FA370"/>
<path d="M198.94 67.65A151.2 151.2 0 0 1 202.72 66.05L206.57 75.49A141.0 141.0 0 0 0 203.04 76.99Z" fill="#2C79BF"/>
<path d="M202.33 66.21A151.2 151.2 0 0 1 206.16 64.70L209.77 74.24A141.0 141.0 0 0 0 206.20 75.64Z" fill="#C6C6C6"/>
<path d="M205.76 64.85A151.2 151.2 0 0 1 209.62 63.43L213.00 73.06A141.0 141.0 0 0 0 209.40 74.38Z" fill="#D7642D"/>
<path d="M209.23 63.57A151.2 151.2 0 0 1 213.12 62.25L216.26 71.96A141.0 141.0 0 0 0 212.63 73.19Z" fill="#F1E43E"/>
<path d="M212.72 62.38A151.2 151.2 0 0 1 216.64 61.16L219.55 70.94A141.0 141.0 0 0 0 215.89 72.08Z" fill="#C6C6C6"/>
<path d="M216.24 61.28A151.2 151.2 0 0 1 223.77 59.23L226.19 69.14A141.0 141.0 0 0 0 219.17 71.05Z" fill="#D7642D"/>
<path d="M223.36 59.33A151.2 151.2 0 0 1 260.94 54.91L260.86 65.10A141.0 141.0 0 0 0 225.81 69.23Z" fill="#2C79BF"/>
<path d="M260.52 54.90A151.2 151.2 0 0 1 264.63 54.98L264.30 65.17A141.0 141.0 0 0 0 260.46 65.10Z" fill="#E39C2D"/>
<path d="M264.21 54.97A151.2 151.2 0 0 1 272.00 55.40L271.17 65.57A141.0 141.0 0 0 0 263.90 65.16Z" fill="#D7642D"/>
<path d="M271.57 55.37A151.2 151.2 0 0 1 279.33 56.18L278.01 66.29A141.0 141.0 0 0 0 270.77 65.54Z" fill="#2C79BF"/>
<path d="M278.91 56.13A151.2 151.2 0 0 1 286.62 57.32L284.81 67.35A141.0 141.0 0 0 0 277.62 66.24Z" fill="#E39C2D"/>
<path d="M286.21 57.24A151.2 151.2 0 0 1 290.25 58.02L288.18 68.01A141.0 141.0 0 0 0 284.42 67.28Z" fill="#2C79BF"/>
<path d="M289.83 57.93A151.2 151.2 0 0 1 293.85 58.81L291.55 68.74A141.0 141.0 0 0 0 287.80 67.93Z" fill="#D7642D"/>
<path d="M293.44 58.71A151.2 151.2 0 0 1 311.18 63.93L307.71 73.52A141.0 141.0 0 0 0 291.16 68.65Z" fill="#2C79BF"/>
<path d="M310.78 63.79A151.2 151.2 0 0 1 314.63 65.23L310.93 74.73A141.0 141.0 0 0 0 307.34 73.39Z" fill="#F1E43E"/>
<path d="M314.24 65.08A151.2 151.2 0 0 1 329.78 72.12L325.05 81.16A141.0 141.0 0 0 0 310.56 74.59Z" fill="#2C79BF"/>
<path d="M329.41 71.93A151.2 151.2 0 0 1 336.23 75.70L331.07 84.50A141.0 141.0 0 0 0 324.70 80.98Z" fill="#D7642D"/>
<path d="M335.87 75.49A151.2 151.2 0 0 1 342.50 79.59L336.92 88.12A141.0 141.0 0 0 0 330.73 84.30Z" fill="#2C79BF"/>
<path d="M342.15 79.36A151.2 151.2 0 0 1 345.57 81.65L339.77 90.04A141.0 141.0 0 0 0 336.59 87.91Z" fill="#D7642D"/>
<path d="M345.22 81.41A151.2 151.2 0 0 1 348.58 83.78L342.58 92.03A141.0 141.0 0 0 0 339.45 89.82Z" fill="#F1E43E"/>
<path d="M348.23 83.53A151.2 151.2 0 0 1 357.29 90.61L350.70 98.40A141.0 141.0 0 0 0 342.26 91.80Z" fill="#D7642D"/>
<path d="M356.96 90.34A151.2 151.2 0 0 1 362.80 95.51L355.85 102.97A141.0 141.0 0 0 0 350.40 98.14Z" fill="#2C79BF"/>
<path d="M362.49 95.22A151.2 151.2 0 0 1 368.08 100.67L360.76 107.78A141.0 141.0 0 0 0 355.56 102.70Z" fill="#D7642D"/>
<path d="M367.78 100.36A151.2 151.2 0 0 1 373.09 106.08L365.44 112.83A141.0 141.0 0 0 0 360.49 107.50Z" fill="#1FA370"/>
<path d="M372.81 105.76A151.2 151.2 0 0 1 383.44 119.21L375.09 125.07A141.0 141.0 0 0 0 365.18 112.53Z" fill="#D7642D"/>
<path d="M383.20 118.87A151.2 151.2 0 0 1 385.53 122.26L377.04 127.91A141.0 141.0 0 0 0 374.87 124.75Z" fill="#2C79BF"/>
<path d="M385.29 121.91A151.2 151.2 0 0 1 399.07 147.48L389.67 151.43A141.0 141.0 0 0 0 376.82 127.59Z" fill="#D7642D"/>
<path d="M398.91 147.09A151.2 151.2 0 0 1 400.46 150.89L390.97 154.62A141.0 141.0 0 0 0 389.52 151.07Z" fill="#2C79BF"/>
<path d="M400.31 150.50A151.2 151.2 0 0 1 401.77 154.34L392.18 157.84A141.0 141.0 0 0 0 390.82 154.25Z" fill="#1FA370"/>
<path d="M401.62 153.95A151.2 151.2 0 0 1 402.99 157.83L393.32 161.08A141.0 141.0 0 0 0 392.05 157.47Z" fill="#E39C2D"/>
<path d="M402.85 157.43A151.2 151.2 0 0 1 404.12 161.34L394.38 164.36A141.0 141.0 0 0 0 393.19 160.71Z" fill="#C6C6C6"/>
<path d="M404.00 160.93A151.2 151.2 0 0 1 405.17 164.87L395.36 167.66A141.0 141.0 0 0 0 394.26 163.98Z" fill="#D7642D"/>
<path d="M405.06 164.47A151.2 151.2 0 0 1 406.13 168.44L396.26 170.98A141.0 141.0 0 0 0 395.25 167.28Z" fill="#C6C6C6"/>
<path d="M406.03 168.03A151.2 151.2 0 0 1 407.80 175.62L397.81 177.68A141.0 141.0 0 0 0 396.16 170.60Z" fill="#D7642D"/>
<path d="M407.71 175.21A151.2 151.2 0 0 1 409.99 189.51L399.85 190.63A141.0 141.0 0 0 0 397.73 177.30Z" fill="#2C79BF"/>
<path d="M409.94 189.09A151.2 151.2 0 0 1 410.35 193.18L400.18 194.05A141.0 141.0 0 0 0 399.80 190.24Z" fill="#F1E43E"/>
<path d="M410.31 192.76A151.2 151.2 0 0 1 410.89 203.99L400.69 204.13A141.0 141.0 0 0 0 400.15 193.66Z" fill="#2C79BF"/>
<path d="M418.95 262.09A168.8 168.8 0 0 1 417.36 266.39L407.74 262.72A158.5 158.5 0 0 0 409.23 258.67Z" fill="#354FA2"/>
<path d="M417.53 265.95A168.8 168.8 0 0 1 414.23 274.01L404.81 269.87A158.5 158.5 0 0 0 407.90 262.30Z" fill="#EF686A"/>
<path d="M414.42 273.58A168.8 168.8 0 0 1 412.53 277.77L403.21 273.39A158.5 158.5 0 0 0 404.98 269.47Z" fill="#354FA2"/>
<path d="M412.73 277.34A168.8 168.8 0 0 1 408.85 285.14L399.75 280.31A158.5 158.5 0 0 0 403.39 272.99Z" fill="#EF686A"/>
<path d="M409.07 284.72A168.8 168.8 0 0 1 332.34 358.47L327.91 349.17A158.5 158.5 0 0 0 399.96 279.92Z" fill="#354FA2"/>
<path d="M332.77 358.27A168.8 168.8 0 0 1 328.60 360.20L324.40 350.79A158.5 158.5 0 0 0 328.31 348.98Z" fill="#EF686A"/>
<path d="M329.03 360.00A168.8 168.8 0 0 1 306.43 368.30L303.58 358.40A158.5 158.5 0 0 0 324.80 350.61Z" fill="#354FA2"/>
<path d="M306.89 368.17A168.8 168.8 0 0 1 302.46 369.39L299.85 359.43A158.5 158.5 0 0 0 304.01 358.28Z" fill="#C6C6C6"/>
<path d="M302.92 369.27A168.8 168.8 0 0 1 298.46 370.39L296.10 360.36A158.5 158.5 0 0 0 300.28 359.32Z" fill="#EF686A"/>
<path d="M298.92 370.28A168.8 168.8 0 0 1 294.44 371.29L292.32 361.21A158.5 158.5 0 0 0 296.53 360.26Z" fill="#C6C6C6"/>
<path d="M294.91 371.19A168.8 168.8 0 0 1 290.40 372.08L288.53 361.96A158.5 158.5 0 0 0 292.76 361.11Z" fill="#F0502D"/>
<path d="M290.87 372.00A168.8 168.8 0 0 1 271.29 374.50L270.58 364.23A158.5 158.5 0 0 0 288.96 361.87Z" fill="#354FA2"/>
<path d="M271.76 374.47A168.8 168.8 0 0 1 267.18 374.73L266.72 364.44A158.5 158.5 0 0 0 271.02 364.19Z" fill="#C6C6C6"/>
<path d="M267.65 374.71A168.8 168.8 0 0 1 222.80 370.82L225.05 360.77A158.5 158.5 0 0 0 267.16 364.42Z" fill="#354FA2"/>
<path d="M223.26 370.92A168.8 168.8 0 0 1 214.81 368.82L217.54 358.89A158.5 158.5 0 0 0 225.48 360.86Z" fill="#EF686A"/>
<path d="M215.26 368.95A168.8 168.8 0 0 1 210.85 367.68L213.83 357.82A158.5 158.5 0 0 0 217.97 359.01Z" fill="#354FA2"/>
<path d="M211.30 367.81A168.8 168.8 0 0 1 203.02 365.10L206.48 355.40A158.5 158.5 0 0 0 214.25 357.94Z" fill="#EF686A"/>
<path d="M203.47 365.26A168.8 168.8 0 0 1 118.68 298.87L127.29 293.21A158.5 158.5 0 0 0 206.90 355.55Z" fill="#354FA2"/>
<path d="M118.94 299.27A168.8 168.8 0 0 1 116.46 295.41L125.20 289.96A158.5 158.5 0 0 0 127.53 293.58Z" fill="#C6C6C6"/>
<path d="M116.71 295.81A168.8 168.8 0 0 1 114.32 291.88L123.19 286.65A158.5 158.5 0 0 0 125.43 290.33Z" fill="#354FA2"/>
<path d="M114.56 292.29A168.8 168.8 0 0 1 112.27 288.31L121.27 283.29A158.5 158.5 0 0 0 123.42 287.03Z" fill="#EF686A"/>
<path d="M112.50 288.72A168.8 168.8 0 0 1 108.44 281.02L117.67 276.45A158.5 158.5 0 0 0 121.48 283.68Z" fill="#354FA2"/>
<path d="M108.65 281.44A168.8 168.8 0 0 1 98.30 255.52L108.15 252.51A158.5 158.5 0 0 0 117.86 276.85Z" fill="#EF686A"/>
<path d="M98.44 255.98A168.8 168.8 0 0 1 97.14 251.57L107.06 248.80A158.5 158.5 0 0 0 108.28 252.93Z" fill="#F0502D"/>
<path d="M97.27 252.03A168.8 168.8 0 0 1 94.29 172.43L104.39 174.48A158.5 158.5 0 0 0 107.18 249.22Z" fill="#354FA2"/>
<path d="M94.20 172.89A168.8 168.8 0 0 1 95.16 168.40L105.20 170.70A158.5 158.5 0 0 0 104.30 174.91Z" fill="#EF686A"/>
<path d="M95.06 168.86A168.8 168.8 0 0 1 96.13 164.40L106.11 166.94A158.5 158.5 0 0 0 105.11 171.13Z" fill="#354FA2"/>
<path d="M96.02 164.85A168.8 168.8 0 0 1 97.20 160.42L107.11 163.21A158.5 158.5 0 0 0 106.00 167.37Z" fill="#C6C6C6"/>
<path d="M97.07 160.87A168.8 168.8 0 0 1 106.96 134.25L116.28 138.63A158.5 158.5 0 0 0 107.00 163.63Z" fill="#354FA2"/>
<path d="M106.75 134.68A168.8 168.8 0 0 1 108.75 130.54L117.96 135.15A158.5 158.5 0 0 0 116.09 139.04Z" fill="#EF686A"/>
<path d="M108.54 130.97A168.8 168.8 0 0 1 110.64 126.88L119.74 131.72A158.5 158.5 0 0 0 117.77 135.55Z" fill="#354FA2"/>
<path d="M110.42 127.30A168.8 168.8 0 0 1 112.62 123.27L121.59 128.32A158.5 158.5 0 0 0 119.53 132.11Z" fill="#C6C6C6"/>
<path d="M112.39 123.68A168.8 168.8 0 0 1 114.68 119.71L123.53 124.98A158.5 158.5 0 0 0 121.38 128.71Z" fill="#D9535B"/>
<path d="M114.44 120.11A168.8 168.8 0 0 1 123.02 107.05L131.36 113.09A158.5 158.5 0 0 0 123.31 125.36Z" fill="#354FA2"/>
<path d="M122.74 107.43A168.8 168.8 0 0 1 125.48 103.74L133.67 109.99A158.5 158.5 0 0 0 131.10 113.45Z" fill="#EF686A"/>
<path d="M125.19 104.11A168.8 168.8 0 0 1 130.63 97.31L138.51 103.95A158.5 158.5 0 0 0 133.40 110.34Z" fill="#354FA2"/>
<path d="M130.33 97.67A168.8 168.8 0 0 1 133.32 94.20L141.03 101.02A158.5 158.5 0 0 0 138.22 104.29Z" fill="#EF686A"/>
<path d="M133.01 94.55A168.8 168.8 0 0 1 138.93 88.16L146.30 95.36A158.5 158.5 0 0 0 140.74 101.36Z" fill="#F0502D"/>
<path d="M138.60 88.50A168.8 168.8 0 0 1 141.85 85.25L149.04 92.63A158.5 158.5 0 0 0 145.99 95.68Z" fill="#EF686A"/>
<path d="M141.51 85.58A168.8 168.8 0 0 1 147.88 79.65L154.71 87.36A158.5 158.5 0 0 0 148.72 92.94Z" fill="#354FA2"/>
<path d="M147.53 79.96A168.8 168.8 0 0 1 151.00 76.96L157.63 84.84A158.5 158.5 0 0 0 154.37 87.66Z" fill="#EF686A"/>
<path d="M150.64 77.26A168.8 168.8 0 0 1 160.74 69.35L166.78 77.70A158.5 158.5 0 0 0 157.30 85.12Z" fill="#354FA2"/>
<path d="M160.36 69.63A168.8 168.8 0 0 1 164.10 66.98L169.94 75.47A158.5 158.5 0 0 0 166.42 77.96Z" fill="#EF686A"/>
<path d="M163.72 67.25A168.8 168.8 0 0 1 167.53 64.69L173.15 73.32A158.5 158.5 0 0 0 169.57 75.72Z" fill="#C6C6C6"/>
<path d="M167.13 64.95A168.8 168.8 0 0 1 174.54 60.36L179.73 69.25A158.5 158.5 0 0 0 172.78 73.56Z" fill="#D9535B"/>
<path d="M174.13 60.60A168.8 168.8 0 0 1 188.25 53.17L192.61 62.50A158.5 158.5 0 0 0 179.35 69.48Z" fill="#354FA2"/>
<path d="M187.83 53.37A168.8 168.8 0 0 1 199.63 48.35L203.30 57.98A158.5 158.5 0 0 0 192.21 62.69Z" fill="#EF686A"/>
<path d="M199.19 48.52A168.8 168.8 0 0 1 203.50 46.93L206.93 56.64A158.5 158.5 0 0 0 202.88 58.13Z" fill="#354FA2"/>
<path d="M203.05 47.09A168.8 168.8 0 0 1 211.33 44.38L214.28 54.25A158.5 158.5 0 0 0 206.51 56.79Z" fill="#EF686A"/>
<path d="M210.88 44.51A168.8 168.8 0 0 1 223.29 41.27L225.51 51.33A158.5 158.5 0 0 0 213.86 54.37Z" fill="#354FA2"/>
<path d="M222.83 41.38A168.8 168.8 0 0 1 231.37 39.69L233.10 49.85A158.5 158.5 0 0 0 225.08 51.43Z" fill="#EF686A"/>
<path d="M230.91 39.77A168.8 168.8 0 0 1 235.44 39.05L236.92 49.25A158.5 158.5 0 0 0 232.66 49.92Z" fill="#354FA2"/>
<path d="M234.97 39.12A168.8 168.8 0 0 1 239.52 38.51L240.76 48.74A158.5 158.5 0 0 0 236.48 49.31Z" fill="#EF686A"/>
<path d="M239.06 38.57A168.8 168.8 0 0 1 243.62 38.07L244.60 48.32A158.5 158.5 0 0 0 240.32 48.79Z" fill="#354FA2"/>
<path d="M243.15 38.11A168.8 168.8 0 0 1 251.84 37.48L252.32 47.77A158.5 158.5 0 0 0 244.16 48.36Z" fill="#D9535B"/>
<path d="M251.37 37.51A168.8 168.8 0 0 1 255.95 37.34L256.18 47.64A158.5 158.5 0 0 0 251.87 47.79Z" fill="#354FA2"/>
<path d="M255.48 37.35A168.8 168.8 0 0 1 264.19 37.36L263.92 47.66A158.5 158.5 0 0 0 255.74 47.65Z" fill="#CF3B2E"/>
<path d="M263.72 37.35A168.8 168.8 0 0 1 268.31 37.52L267.78 47.81A158.5 158.5 0 0 0 263.47 47.64Z" fill="#354FA2"/>
<path d="M267.84 37.50A168.8 168.8 0 0 1 272.42 37.78L271.64 48.05A158.5 158.5 0 0 0 267.34 47.78Z" fill="#EF686A"/>
<path d="M271.95 37.74A168.8 168.8 0 0 1 280.61 38.60L279.34 48.82A158.5 158.5 0 0 0 271.20 48.02Z" fill="#354FA2"/>
<path d="M280.15 38.54A168.8 168.8 0 0 1 288.76 39.82L286.99 49.97A158.5 158.5 0 0 0 278.90 48.77Z" fill="#EF686A"/>
<path d="M288.30 39.74A168.8 168.8 0 0 1 292.81 40.58L290.79 50.68A158.5 158.5 0 0 0 286.55 49.89Z" fill="#354FA2"/>
<path d="M292.35 40.49A168.8 168.8 0 0 1 296.84 41.44L294.57 51.48A158.5 158.5 0 0 0 290.35 50.59Z" fill="#CF3B2E"/>
<path d="M296.38 41.33A168.8 168.8 0 0 1 300.84 42.39L298.33 52.38A158.5 158.5 0 0 0 294.14 51.39Z" fill="#354FA2"/>
<path d="M300.39 42.28A168.8 168.8 0 0 1 304.83 43.44L302.07 53.37A158.5 158.5 0 0 0 297.90 52.27Z" fill="#C6C6C6"/>
<path d="M304.37 43.32A168.8 168.8 0 0 1 308.78 44.59L305.79 54.45A158.5 158.5 0 0 0 301.65 53.25Z" fill="#354FA2"/>
<path d="M308.33 44.46A168.8 168.8 0 0 1 312.71 45.84L309.47 55.62A158.5 158.5 0 0 0 305.36 54.32Z" fill="#EF686A"/>
<path d="M312.26 45.69A168.8 168.8 0 0 1 316.60 47.18L313.13 56.88A158.5 158.5 0 0 0 309.05 55.48Z" fill="#96382C"/>
<path d="M316.16 47.02A168.8 168.8 0 0 1 320.46 48.62L316.76 58.23A158.5 158.5 0 0 0 312.71 56.73Z" fill="#354FA2"/>
<path d="M320.02 48.45A168.8 168.8 0 0 1 324.29 50.15L320.35 59.66A158.5 158.5 0 0 0 316.34 58.07Z" fill="#EF686A"/>
<path d="M323.85 49.97A168.8 168.8 0 0 1 328.07 51.77L323.90 61.18A158.5 158.5 0 0 0 319.94 59.49Z" fill="#354FA2"/>
<path d="M327.64 51.58A168.8 168.8 0 0 1 331.82 53.48L327.42 62.79A158.5 158.5 0 0 0 323.50 61.01Z" fill="#EF686A"/>
<path d="M331.39 53.28A168.8 168.8 0 0 1 339.18 57.18L334.33 66.27A158.5 158.5 0 0 0 327.02 62.61Z" fill="#CF3B2E"/>
<path d="M338.76 56.96A168.8 168.8 0 0 1 342.79 59.17L337.72 68.13A158.5 158.5 0 0 0 333.94 66.06Z" fill="#F0502D"/>
<path d="M342.38 58.93A168.8 168.8 0 0 1 346.35 61.24L341.06 70.08A158.5 158.5 0 0 0 337.33 67.91Z" fill="#EF686A"/>
<path d="M345.94 61.00A168.8 168.8 0 0 1 353.31 65.64L347.60 74.21A158.5 158.5 0 0 0 340.68 69.85Z" fill="#F0502D"/>
<path d="M352.92 65.38A168.8 168.8 0 0 1 360.05 70.37L353.93 78.65A158.5 158.5 0 0 0 347.23 73.96Z" fill="#C6C6C6"/>
<path d="M359.67 70.09A168.8 168.8 0 0 1 366.56 75.43L360.04 83.40A158.5 158.5 0 0 0 353.57 78.39Z" fill="#EF686A"/>
<path d="M366.19 75.13A168.8 168.8 0 0 1 369.71 78.07L363.00 85.89A158.5 158.5 0 0 0 359.69 83.12Z" fill="#F0502D"/>
<path d="M369.35 77.77A168.8 168.8 0 0 1 372.80 80.80L365.90 88.44A158.5 158.5 0 0 0 362.66 85.60Z" fill="#EF686A"/>
<path d="M372.45 80.48A168.8 168.8 0 0 1 375.83 83.59L368.74 91.07A158.5 158.5 0 0 0 365.57 88.15Z" fill="#F0502D"/>
<path d="M375.48 83.27A168.8 168.8 0 0 1 378.78 86.46L371.52 93.76A158.5 158.5 0 0 0 368.42 90.76Z" fill="#C6C6C6"/>
<path d="M378.45 86.13A168.8 168.8 0 0 1 387.21 95.49L379.43 102.24A158.5 158.5 0 0 0 371.20 93.45Z" fill="#EF686A"/>
<path d="M386.90 95.14A168.8 168.8 0 0 1 394.96 105.12L386.71 111.28A158.5 158.5 0 0 0 379.14 101.91Z" fill="#354FA2"/>
<path d="M394.68 104.74A168.8 168.8 0 0 1 397.39 108.45L388.98 114.41A158.5 158.5 0 0 0 386.44 110.92Z" fill="#EF686A"/>
<path d="M397.11 108.06A168.8 168.8 0 0 1 401.99 115.28L393.30 120.82A158.5 158.5 0 0 0 388.73 114.04Z" fill="#354FA2"/>
<path d="M401.73 114.88A168.8 168.8 0 0 1 404.16 118.78L395.34 124.11A158.5 158.5 0 0 0 393.06 120.45Z" fill="#C6C6C6"/>
<path d="M403.91 118.38A168.8 168.8 0 0 1 406.25 122.33L397.30 127.44A158.5 158.5 0 0 0 395.11 123.73Z" fill="#EF686A"/>
<path d="M406.01 121.92A168.8 168.8 0 0 1 408.25 125.93L399.18 130.82A158.5 158.5 0 0 0 397.08 127.06Z" fill="#F0502D"/>
<path d="M408.02 125.52A168.8 168.8 0 0 1 410.16 129.58L400.98 134.25A158.5 158.5 0 0 0 398.97 130.43Z" fill="#C6C6C6"/>
<path d="M409.94 129.16A168.8 168.8 0 0 1 416.52 143.64L406.95 147.45A158.5 158.5 0 0 0 400.78 133.85Z" fill="#354FA2"/>
<path d="M416.34 143.20A168.8 168.8 0 0 1 418.00 147.48L408.34 151.06A158.5 158.5 0 0 0 406.79 147.04Z" fill="#F0502D"/>
<path d="M417.83 147.04A168.8 168.8 0 0 1 419.38 151.36L409.64 154.70A158.5 158.5 0 0 0 408.18 150.65Z" fill="#EF686A"/>
<path d="M419.23 150.92A168.8 168.8 0 0 1 420.67 155.28L410.84 158.38A158.5 158.5 0 0 0 409.49 154.28Z" fill="#CF3B2E"/>
<path d="M420.52 154.83A168.8 168.8 0 0 1 421.86 159.22L411.96 162.08A158.5 158.5 0 0 0 410.71 157.95Z" fill="#EF686A"/>
<path d="M421.73 158.77A168.8 168.8 0 0 1 422.95 163.19L412.99 165.81A158.5 158.5 0 0 0 411.84 161.65Z" fill="#D9535B"/>
<path d="M422.83 162.73A168.8 168.8 0 0 1 423.95 167.19L413.93 169.56A158.5 158.5 0 0 0 412.88 165.38Z" fill="#354FA2"/>
<path d="M423.84 166.73A168.8 168.8 0 0 1 426.36 179.30L416.19 180.94A158.5 158.5 0 0 0 413.83 169.13Z" fill="#EF686A"/>
<path d="M426.28 178.84A168.8 168.8 0 0 1 426.96 183.38L416.76 184.76A158.5 158.5 0 0 0 416.12 180.50Z" fill="#354FA2"/>
<path d="M426.90 182.91A168.8 168.8 0 0 1 427.47 187.47L417.23 188.60A158.5 158.5 0 0 0 416.70 184.33Z" fill="#EF686A"/>
<path d="M427.42 187.00A168.8 168.8 0 0 1 428.38 199.79L418.09 200.17A158.5 158.5 0 0 0 417.18 188.16Z" fill="#354FA2"/>
<path d="M428.36 199.32A168.8 168.8 0 0 1 428.48 203.74L418.18 203.89A158.5 158.5 0 0 0 418.07 199.73Z" fill="#EF686A"/>
<path d="M435.83 268.02A186.7 186.7 0 0 1 432.40 277.02L422.69 273.03A176.2 176.2 0 0 0 425.93 264.54Z" fill="#96382C"/>
<path d="M432.60 276.54A186.7 186.7 0 0 1 430.62 281.22L421.01 276.99A176.2 176.2 0 0 0 422.88 272.58Z" fill="#354FA2"/>
<path d="M430.83 280.74A186.7 186.7 0 0 1 424.67 293.52L415.39 288.60A176.2 176.2 0 0 0 421.21 276.54Z" fill="#96382C"/>
<path d="M424.91 293.06A186.7 186.7 0 0 1 422.49 297.52L413.33 292.37A176.2 176.2 0 0 0 415.62 288.17Z" fill="#C6C6C6"/>
<path d="M422.74 297.06A186.7 186.7 0 0 1 408.55 318.80L400.18 312.46A176.2 176.2 0 0 0 413.57 291.95Z" fill="#96382C"/>
<path d="M408.86 318.39A186.7 186.7 0 0 1 385.75 343.82L378.66 336.08A176.2 176.2 0 0 0 400.47 312.07Z" fill="#354FA2"/>
<path d="M386.14 343.47A186.7 186.7 0 0 1 382.36 346.86L375.46 338.94A176.2 176.2 0 0 0 379.03 335.74Z" fill="#A7DDF0"/>
<path d="M382.75 346.51A186.7 186.7 0 0 1 378.88 349.81L372.18 341.73A176.2 176.2 0 0 0 375.83 338.62Z" fill="#354FA2"/>
<path d="M379.29 349.47A186.7 186.7 0 0 1 375.34 352.67L368.84 344.43A176.2 176.2 0 0 0 372.56 341.41Z" fill="#A7DDF0"/>
<path d="M375.75 352.35A186.7 186.7 0 0 1 371.73 355.45L365.43 347.05A176.2 176.2 0 0 0 369.22 344.12Z" fill="#C6C6C6"/>
<path d="M372.15 355.14A186.7 186.7 0 0 1 360.51 363.25L354.84 354.41A176.2 176.2 0 0 0 365.82 346.76Z" fill="#96382C"/>
<path d="M360.95 362.96A186.7 186.7 0 0 1 352.72 367.98L347.49 358.87A176.2 176.2 0 0 0 355.25 354.14Z" fill="#A7DDF0"/>
<path d="M353.17 367.72A186.7 186.7 0 0 1 348.74 370.20L343.74 360.97A176.2 176.2 0 0 0 347.92 358.63Z" fill="#E94A2C"/>
<path d="M349.20 369.95A186.7 186.7 0 0 1 340.63 374.35L336.08 364.88A176.2 176.2 0 0 0 344.17 360.73Z" fill="#A7DDF0"/>
<path d="M341.10 374.12A186.7 186.7 0 0 1 336.50 376.27L332.18 366.70A176.2 176.2 0 0 0 336.52 364.67Z" fill="#C6C6C6"/>
<path d="M336.98 376.06A186.7 186.7 0 0 1 328.11 379.82L324.26 370.05A176.2 176.2 0 0 0 332.63 366.50Z" fill="#96382C"/>
<path d="M328.59 379.62A186.7 186.7 0 0 1 315.22 384.35L312.10 374.33A176.2 176.2 0 0 0 324.72 369.86Z" fill="#A7DDF0"/>
<path d="M315.72 384.20A186.7 186.7 0 0 1 310.85 385.66L307.98 375.56A176.2 176.2 0 0 0 312.57 374.18Z" fill="#E94A2C"/>
<path d="M311.36 385.51A186.7 186.7 0 0 1 294.26 389.57L292.31 379.26A176.2 176.2 0 0 0 308.45 375.42Z" fill="#354FA2"/>
<path d="M294.77 389.48A186.7 186.7 0 0 1 289.77 390.36L288.08 380.00A176.2 176.2 0 0 0 292.80 379.16Z" fill="#A7DDF0"/>
<path d="M290.28 390.28A186.7 186.7 0 0 1 245.28 392.24L246.09 381.77A176.2 176.2 0 0 0 288.56 379.92Z" fill="#96382C"/>
<path d="M245.80 392.28A186.7 186.7 0 0 1 236.22 391.32L237.54 380.90A176.2 176.2 0 0 0 246.58 381.81Z" fill="#A7DDF0"/>
<path d="M236.73 391.38A186.7 186.7 0 0 1 231.70 390.69L233.28 380.31A176.2 176.2 0 0 0 238.02 380.96Z" fill="#354FA2"/>
<path d="M232.22 390.77A186.7 186.7 0 0 1 227.21 389.95L229.04 379.61A176.2 176.2 0 0 0 233.76 380.38Z" fill="#C6C6C6"/>
<path d="M227.72 390.04A186.7 186.7 0 0 1 188.87 378.84L192.85 369.13A176.2 176.2 0 0 0 229.52 379.70Z" fill="#96382C"/>
<path d="M189.35 379.04A186.7 186.7 0 0 1 184.68 377.06L188.90 367.45A176.2 176.2 0 0 0 193.31 369.31Z" fill="#E94A2C"/>
<path d="M185.15 377.27A186.7 186.7 0 0 1 180.53 375.18L184.98 365.67A176.2 176.2 0 0 0 189.35 367.65Z" fill="#96382C"/>
<path d="M181.00 375.40A186.7 186.7 0 0 1 176.43 373.20L181.11 363.80A176.2 176.2 0 0 0 185.43 365.88Z" fill="#E94A2C"/>
<path d="M176.89 373.43A186.7 186.7 0 0 1 114.55 323.53L122.72 316.93A176.2 176.2 0 0 0 181.55 364.02Z" fill="#96382C"/>
<path d="M114.88 323.93A186.7 186.7 0 0 1 111.73 319.95L120.05 313.55A176.2 176.2 0 0 0 123.03 317.31Z" fill="#C6C6C6"/>
<path d="M112.05 320.37A186.7 186.7 0 0 1 99.19 301.46L108.22 296.10A176.2 176.2 0 0 0 120.35 313.94Z" fill="#96382C"/>
<path d="M99.46 301.91A186.7 186.7 0 0 1 96.91 297.52L106.07 292.38A176.2 176.2 0 0 0 108.47 296.52Z" fill="#E94A2C"/>
<path d="M97.17 297.97A186.7 186.7 0 0 1 92.65 289.47L102.04 284.78A176.2 176.2 0 0 0 106.31 292.81Z" fill="#96382C"/>
<path d="M92.88 289.93A186.7 186.7 0 0 1 85.81 274.05L95.59 270.23A176.2 176.2 0 0 0 102.26 285.22Z" fill="#354FA2"/>
<path d="M86.00 274.54A186.7 186.7 0 0 1 84.20 269.79L94.07 266.21A176.2 176.2 0 0 0 95.77 270.69Z" fill="#C6C6C6"/>
<path d="M84.38 270.28A186.7 186.7 0 0 1 82.70 265.49L92.65 262.15A176.2 176.2 0 0 0 94.24 266.67Z" fill="#96382C"/>
<path d="M82.86 265.98A186.7 186.7 0 0 1 81.30 261.15L91.33 258.06A176.2 176.2 0 0 0 92.81 262.62Z" fill="#E94A2C"/>
<path d="M81.46 261.65A186.7 186.7 0 0 1 80.01 256.78L90.12 253.93A176.2 176.2 0 0 0 91.48 258.53Z" fill="#96382C"/>
<path d="M80.15 257.28A186.7 186.7 0 0 1 78.83 252.38L89.00 249.78A176.2 176.2 0 0 0 90.25 254.41Z" fill="#C6C6C6"/>
<path d="M78.96 252.89A186.7 186.7 0 0 1 77.75 247.96L87.99 245.60A176.2 176.2 0 0 0 89.12 250.26Z" fill="#354FA2"/>
<path d="M77.87 248.46A186.7 186.7 0 0 1 75.18 234.54L85.56 232.94A176.2 176.2 0 0 0 88.10 246.08Z" fill="#96382C"/>
<path d="M75.26 235.05A186.7 186.7 0 0 1 74.54 230.03L84.95 228.68A176.2 176.2 0 0 0 85.63 233.42Z" fill="#C6C6C6"/>
<path d="M74.61 230.54A186.7 186.7 0 0 1 73.01 204.09L83.51 204.21A176.2 176.2 0 0 0 85.02 229.17Z" fill="#A7DDF0"/>
<path d="M73.01 204.62A186.7 186.7 0 0 1 73.12 199.54L83.61 199.91A176.2 176.2 0 0 0 83.51 204.70Z" fill="#96382C"/>
<path d="M73.10 200.06A186.7 186.7 0 0 1 73.33 194.99L83.81 195.61A176.2 176.2 0 0 0 83.59 200.40Z" fill="#354FA2"/>
<path d="M73.30 195.51A186.7 186.7 0 0 1 75.16 177.77L85.54 179.36A176.2 176.2 0 0 0 83.78 196.11Z" fill="#A7DDF0"/>
<path d="M75.08 178.29A186.7 186.7 0 0 1 76.76 168.80L87.05 170.90A176.2 176.2 0 0 0 85.47 179.85Z" fill="#354FA2"/>
<path d="M76.66 169.31A186.7 186.7 0 0 1 78.80 159.92L88.97 162.52A176.2 176.2 0 0 0 86.95 171.38Z" fill="#A7DDF0"/>
<path d="M78.67 160.43A186.7 186.7 0 0 1 79.98 155.52L90.09 158.37A176.2 176.2 0 0 0 88.85 163.00Z" fill="#354FA2"/>
<path d="M79.84 156.02A186.7 186.7 0 0 1 82.66 146.81L92.62 150.15A176.2 176.2 0 0 0 89.96 158.84Z" fill="#A7DDF0"/>
<path d="M82.50 147.31A186.7 186.7 0 0 1 88.70 131.17L98.32 135.38A176.2 176.2 0 0 0 92.46 150.62Z" fill="#96382C"/>
<path d="M88.49 131.64A186.7 186.7 0 0 1 90.58 127.02L100.09 131.46A176.2 176.2 0 0 0 98.12 135.83Z" fill="#C6C6C6"/>
<path d="M90.36 127.49A186.7 186.7 0 0 1 102.04 106.10L110.91 111.72A176.2 176.2 0 0 0 99.88 131.91Z" fill="#354FA2"/>
<path d="M101.76 106.54A186.7 186.7 0 0 1 104.53 102.28L113.25 108.12A176.2 176.2 0 0 0 110.64 112.14Z" fill="#96382C"/>
<path d="M104.24 102.71A186.7 186.7 0 0 1 107.11 98.53L115.69 104.58A176.2 176.2 0 0 0 112.98 108.53Z" fill="#354FA2"/>
<path d="M106.81 98.95A186.7 186.7 0 0 1 115.38 87.65L123.50 94.31A176.2 176.2 0 0 0 115.41 104.98Z" fill="#96382C"/>
<path d="M115.05 88.06A186.7 186.7 0 0 1 118.32 84.17L126.27 91.02A176.2 176.2 0 0 0 123.19 94.69Z" fill="#354FA2"/>
<path d="M117.98 84.56A186.7 186.7 0 0 1 121.33 80.75L129.12 87.80A176.2 176.2 0 0 0 125.95 91.40Z" fill="#C6C6C6"/>
<path d="M120.98 81.14A186.7 186.7 0 0 1 124.43 77.41L132.04 84.65A176.2 176.2 0 0 0 128.79 88.17Z" fill="#354FA2"/>
<path d="M124.08 77.79A186.7 186.7 0 0 1 130.87 70.97L138.12 78.57A176.2 176.2 0 0 0 131.70 85.01Z" fill="#96382C"/>
<path d="M130.50 71.33A186.7 186.7 0 0 1 134.21 67.87L141.27 75.64A176.2 176.2 0 0 0 137.76 78.91Z" fill="#354FA2"/>
<path d="M133.82 68.22A186.7 186.7 0 0 1 137.62 64.84L144.48 72.79A176.2 176.2 0 0 0 140.90 75.97Z" fill="#A7DDF0"/>
<path d="M137.22 65.19A186.7 186.7 0 0 1 144.66 59.06L151.13 67.33A176.2 176.2 0 0 0 144.11 73.11Z" fill="#96382C"/>
<path d="M144.25 59.38A186.7 186.7 0 0 1 148.28 56.29L154.54 64.72A176.2 176.2 0 0 0 150.74 67.63Z" fill="#354FA2"/>
<path d="M147.86 56.61A186.7 186.7 0 0 1 155.72 51.04L161.57 59.76A176.2 176.2 0 0 0 154.15 65.01Z" fill="#C6C6C6"/>
<path d="M155.29 51.33A186.7 186.7 0 0 1 163.41 46.15L168.82 55.14A176.2 176.2 0 0 0 161.16 60.03Z" fill="#96382C"/>
<path d="M162.96 46.42A186.7 186.7 0 0 1 167.34 43.85L172.53 52.97A176.2 176.2 0 0 0 168.40 55.40Z" fill="#354FA2"/>
<path d="M166.89 44.10A186.7 186.7 0 0 1 171.32 41.64L176.30 50.89A176.2 176.2 0 0 0 172.11 53.22Z" fill="#C6C6C6"/>
<path d="M170.87 41.89A186.7 186.7 0 0 1 175.36 39.53L180.11 48.90A176.2 176.2 0 0 0 175.86 51.12Z" fill="#96382C"/>
<path d="M174.90 39.77A186.7 186.7 0 0 1 183.59 35.62L187.87 45.21A176.2 176.2 0 0 0 179.67 49.12Z" fill="#354FA2"/>
<path d="M183.11 35.83A186.7 186.7 0 0 1 187.77 33.81L191.82 43.50A176.2 176.2 0 0 0 187.42 45.41Z" fill="#E94A2C"/>
<path d="M187.29 34.01A186.7 186.7 0 0 1 200.57 29.01L203.89 38.97A176.2 176.2 0 0 0 191.36 43.69Z" fill="#96382C"/>
<path d="M200.07 29.18A186.7 186.7 0 0 1 204.91 27.62L207.99 37.66A176.2 176.2 0 0 0 203.43 39.13Z" fill="#E94A2C"/>
<path d="M204.41 27.78A186.7 186.7 0 0 1 227.01 22.28L228.85 32.62A176.2 176.2 0 0 0 207.52 37.80Z" fill="#96382C"/>
<path d="M226.50 22.38A186.7 186.7 0 0 1 231.51 21.54L233.09 31.92A176.2 176.2 0 0 0 228.37 32.71Z" fill="#C6C6C6"/>
<path d="M230.99 21.62A186.7 186.7 0 0 1 270.13 19.69L269.54 30.18A176.2 176.2 0 0 0 232.61 32.00Z" fill="#96382C"/>
<path d="M269.61 19.66A186.7 186.7 0 0 1 274.68 20.00L273.83 30.47A176.2 176.2 0 0 0 269.05 30.15Z" fill="#C6C6C6"/>
<path d="M274.16 19.96A186.7 186.7 0 0 1 283.74 20.95L282.38 31.37A176.2 176.2 0 0 0 273.34 30.43Z" fill="#96382C"/>
<path d="M283.22 20.89A186.7 186.7 0 0 1 288.25 21.60L286.64 31.97A176.2 176.2 0 0 0 281.90 31.30Z" fill="#C6C6C6"/>
<path d="M287.73 21.52A186.7 186.7 0 0 1 297.21 23.21L295.10 33.49A176.2 176.2 0 0 0 286.15 31.90Z" fill="#96382C"/>
<path d="M296.70 23.10A186.7 186.7 0 0 1 301.66 24.18L299.30 34.41A176.2 176.2 0 0 0 294.62 33.40Z" fill="#354FA2"/>
<path d="M301.16 24.06A186.7 186.7 0 0 1 306.09 25.26L303.48 35.43A176.2 176.2 0 0 0 298.83 34.30Z" fill="#C6C6C6"/>
<path d="M305.59 25.13A186.7 186.7 0 0 1 319.19 29.13L315.85 39.09A176.2 176.2 0 0 0 303.01 35.30Z" fill="#96382C"/>
<path d="M318.70 28.97A186.7 186.7 0 0 1 323.49 30.64L319.91 40.51A176.2 176.2 0 0 0 315.38 38.93Z" fill="#A7DDF0"/>
<path d="M323.00 30.46A186.7 186.7 0 0 1 331.98 33.96L327.91 43.64A176.2 176.2 0 0 0 319.44 40.34Z" fill="#96382C"/>
<path d="M331.50 33.76A186.7 186.7 0 0 1 336.16 35.77L331.86 45.35A176.2 176.2 0 0 0 327.46 43.45Z" fill="#E94A2C"/>
<path d="M335.68 35.56A186.7 186.7 0 0 1 340.29 37.69L335.76 47.16A176.2 176.2 0 0 0 331.41 45.15Z" fill="#A7DDF0"/>
<path d="M339.82 37.47A186.7 186.7 0 0 1 357.57 47.11L352.07 56.05A176.2 176.2 0 0 0 335.31 46.95Z" fill="#96382C"/>
<path d="M357.13 46.84A186.7 186.7 0 0 1 368.94 54.69L362.79 63.21A176.2 176.2 0 0 0 351.65 55.79Z" fill="#C6C6C6"/>
<path d="M368.51 54.39A186.7 186.7 0 0 1 372.60 57.40L366.25 65.77A176.2 176.2 0 0 0 362.39 62.92Z" fill="#96382C"/>
<path d="M372.18 57.09A186.7 186.7 0 0 1 376.19 60.20L369.64 68.41A176.2 176.2 0 0 0 365.86 65.47Z" fill="#A7DDF0"/>
<path d="M375.79 59.88A186.7 186.7 0 0 1 383.17 66.06L376.23 73.94A176.2 176.2 0 0 0 369.26 68.10Z" fill="#96382C"/>
<path d="M382.78 65.71A186.7 186.7 0 0 1 389.86 72.25L382.54 79.78A176.2 176.2 0 0 0 375.86 73.61Z" fill="#E94A2C"/>
<path d="M389.48 71.89A186.7 186.7 0 0 1 401.67 84.85L393.69 91.67A176.2 176.2 0 0 0 382.18 79.43Z" fill="#96382C"/>
<path d="M401.33 84.45A186.7 186.7 0 0 1 404.59 88.35L396.44 94.97A176.2 176.2 0 0 0 393.37 91.30Z" fill="#C6C6C6"/>
<path d="M404.26 87.95A186.7 186.7 0 0 1 416.61 104.93L407.79 110.62A176.2 176.2 0 0 0 396.13 94.59Z" fill="#96382C"/>
<path d="M416.33 104.49A186.7 186.7 0 0 1 419.03 108.79L410.07 114.26A176.2 176.2 0 0 0 407.52 110.21Z" fill="#A7DDF0"/>
<path d="M418.76 108.34A186.7 186.7 0 0 1 421.36 112.71L412.27 117.96A176.2 176.2 0 0 0 409.82 113.84Z" fill="#96382C"/>
<path d="M421.10 112.25A186.7 186.7 0 0 1 423.59 116.68L414.37 121.71A176.2 176.2 0 0 0 412.02 117.53Z" fill="#C6C6C6"/>
<path d="M423.34 116.22A186.7 186.7 0 0 1 425.72 120.70L416.39 125.51A176.2 176.2 0 0 0 414.14 121.28Z" fill="#96382C"/>
<path d="M425.49 120.24A186.7 186.7 0 0 1 427.76 124.78L418.31 129.35A176.2 176.2 0 0 0 416.16 125.07Z" fill="#C6C6C6"/>
<path d="M427.53 124.31A186.7 186.7 0 0 1 431.53 133.08L421.86 137.18A176.2 176.2 0 0 0 418.09 128.91Z" fill="#96382C"/>
<path d="M431.32 132.60A186.7 186.7 0 0 1 433.26 137.29L423.50 141.16A176.2 176.2 0 0 0 421.67 136.73Z" fill="#C6C6C6"/>
<path d="M433.06 136.81A186.7 186.7 0 0 1 439.26 154.96L429.16 157.83A176.2 176.2 0 0 0 423.31 140.70Z" fill="#354FA2"/>
<path d="M439.12 154.46A186.7 186.7 0 0 1 440.45 159.36L430.29 161.98A176.2 176.2 0 0 0 429.03 157.36Z" fill="#A7DDF0"/>
<path d="M440.32 158.85A186.7 186.7 0 0 1 441.54 163.78L431.31 166.16A176.2 176.2 0 0 0 430.16 161.51Z" fill="#354FA2"/>
<path d="M441.42 163.27A186.7 186.7 0 0 1 446.38 203.49L435.88 203.64A176.2 176.2 0 0 0 431.20 165.68Z" fill="#96382C"/>
</g>
<g id="dividers">
<line x1="256.7" y1="5" x2="256.7" y2="79" stroke="#1a1a1a" stroke-width="1.3"/>
<line x1="386.4" y1="202.5" x2="466" y2="202.5" stroke="#1a1a1a" stroke-width="1.3"/>
<line x1="380.9" y1="247.3" x2="456" y2="272.7" stroke="#1a1a1a" stroke-width="1.3"/>
<line x1="232.7" y1="331.8" x2="217.1" y2="410.5" stroke="#1a1a1a" stroke-width="1.3"/>
<line x1="56.4" y1="233.3" x2="128.2" y2="223.6" stroke="#1a1a1a" stroke-width="1.3"/>
</g>
<g id="legend">
<text x="475.8" y="137.2" font-size="7.7" fill="#1a1a1a">Region</text>
<rect x="475.9" y="141.60" width="7.6" height="7.8" fill="#E39C2D"/>
<text x="487.3" y="147.90" font-size="5.3" fill="#262626">Central Asia</text>
<rect x="475.9" y="149.33" width="7.6" height="7.8" fill="#2C79BF"/>
<text x="487.3" y="155.63" font-size="5.3" fill="#262626">CGIAR</text>
<rect x="475.9" y="157.06" width="7.6" height="7.8" fill="#1FA370"/>
<text x="487.3" y="163.36" font-size="5.3" fill="#262626">Europe</text>
<rect x="475.9" y="164.79" width="7.6" height="7.8" fill="#F1E43E"/>
<text x="487.3" y="171.09" font-size="5.3" fill="#262626">North America</text>
<rect x="475.9" y="172.52" width="7.6" height="7.8" fill="#C6C6C6"/>
<text x="487.3" y="178.82" font-size="5.3" fill="#262626">Other</text>
<rect x="475.9" y="180.25" width="7.6" height="7.8" fill="#D7642D"/>
<text x="487.3" y="186.55" font-size="5.3" fill="#262626">Western Asia</text>
<text x="475.8" y="203.9" font-size="7.7" fill="#1a1a1a">Vrn</text>
<rect x="475.9" y="208.00" width="7.6" height="7.8" fill="#96382C"/>
<text x="487.3" y="214.30" font-size="5.3" fill="#262626">VrnA1-VrnB1-VrnD1</text>
<rect x="475.9" y="215.73" width="7.6" height="7.8" fill="#CF3B2E"/>
<text x="487.3" y="222.03" font-size="5.3" fill="#262626">vrnA1-VrnB1-VrnD1</text>
<rect x="475.9" y="223.46" width="7.6" height="7.8" fill="#E4452C"/>
<text x="487.3" y="229.76" font-size="5.3" fill="#262626">VrnA1-vrnB1-VrnD1</text>
<rect x="475.9" y="231.19" width="7.6" height="7.8" fill="#F0502D"/>
<text x="487.3" y="237.49" font-size="5.3" fill="#262626">VrnA1-VrnB1-vrnD1</text>
<rect x="475.9" y="238.92" width="7.6" height="7.8" fill="#C6C6C6"/>
<text x="487.3" y="245.22" font-size="5.3" fill="#262626">Unknown</text>
<rect x="475.9" y="246.65" width="7.6" height="7.8" fill="#D9535B"/>
<text x="487.3" y="252.95" font-size="5.3" fill="#262626">VrnA1-vrnB1-vrnD1</text>
<rect x="475.9" y="254.38" width="7.6" height="7.8" fill="#E9646A"/>
<text x="487.3" y="260.68" font-size="5.3" fill="#262626">vrnA1-VrnB1-vrnD1</text>
<rect x="475.9" y="262.11" width="7.6" height="7.8" fill="#EF686A"/>
<text x="487.3" y="268.41" font-size="5.3" fill="#262626">vrnA1-vrnB1-VrnD1</text>
<rect x="475.9" y="269.84" width="7.6" height="7.8" fill="#354FA2"/>
<text x="487.3" y="276.14" font-size="5.3" fill="#262626">vrnA1-vrnB1-vrnD1</text>
<text x="475.8" y="294.2" font-size="7.7" fill="#1a1a1a">Ppd</text>
<rect x="475.9" y="298.20" width="7.6" height="7.8" fill="#96382C"/>
<text x="487.3" y="304.50" font-size="5.3" fill="#262626">ppdB1-PpdD1</text>
<rect x="475.9" y="305.93" width="7.6" height="7.8" fill="#E94A2C"/>
<text x="487.3" y="312.23" font-size="5.3" fill="#262626">PpdB1-PpdD1</text>
<rect x="475.9" y="313.66" width="7.6" height="7.8" fill="#C6C6C6"/>
<text x="487.3" y="319.96" font-size="5.3" fill="#262626">Unknown</text>
<rect x="475.9" y="321.39" width="7.6" height="7.8" fill="#A7DDF0"/>
<text x="487.3" y="327.69" font-size="5.3" fill="#262626">PpdB1-ppdD1</text>
<rect x="475.9" y="329.12" width="7.6" height="7.8" fill="#354FA2"/>
<text x="487.3" y="335.42" font-size="5.3" fill="#262626">ppdB1-ppdD1</text>
</g>
<g font-family="'Liberation Serif', serif" font-weight="bold" font-size="12" fill="#111" text-anchor="middle">
<text x="48.8" y="41.2">A</text><text x="151" y="410.7">B</text><text x="410" y="410.7">C</text></g>
<g font-size="13.8" fill="#1a1a1a" stroke="#1a1a1a" stroke-width="0.3" text-anchor="middle">
<text x="92.5" y="81">III</text><text x="399" y="56.2">IV</text><text x="110.7" y="354.5">II</text><text x="393.6" y="365.6">I</text></g>
<g id="charts">
<rect x="6.2" y="415.4" width="539.2" height="222.7" fill="#fff" stroke="#333" stroke-width="1.3"/>
<g font-family="'Liberation Serif', serif" font-size="9" fill="#1f1f1f">
<text x="40.8" y="599.5" text-anchor="end" font-size="9.4">0%</text>
<text x="40.8" y="582.3" text-anchor="end" font-size="9.4">10%</text>
<text x="40.8" y="565.1" text-anchor="end" font-size="9.4">20%</text>
<text x="40.8" y="548.0" text-anchor="end" font-size="9.4">30%</text>
<text x="40.8" y="530.8" text-anchor="end" font-size="9.4">40%</text>
<text x="40.8" y="513.6" text-anchor="end" font-size="9.4">50%</text>
<text x="40.8" y="496.4" text-anchor="end" font-size="9.4">60%</text>
<text x="40.8" y="479.2" text-anchor="end" font-size="9.4">70%</text>
<text x="40.8" y="462.1" text-anchor="end" font-size="9.4">80%</text>
<text x="40.8" y="444.9" text-anchor="end" font-size="9.4">90%</text>
<text x="40.8" y="427.7" text-anchor="end" font-size="9.4">100%</text>
<path d="M48.3 595.8H251.4M48.3 595.8v3M149.9 595.8v3M251.4 595.8v3" stroke="#d9d9d9" stroke-width="0.8" fill="none"/>
<path d="M293.6 595.8H524" stroke="#d9d9d9" stroke-width="0.8" fill="none"/>
<rect x="79.1" y="424.0" width="40.6" height="1.4" fill="#FBBD2D"/>
<rect x="79.1" y="425.4" width="40.6" height="33.6" fill="#92CC5B"/>
<rect x="79.1" y="459.0" width="40.6" height="136.8" fill="#3A7ABA"/>
<rect x="181.1" y="424.0" width="40.9" height="13.5" fill="#FBBD2D"/>
<rect x="181.1" y="437.5" width="40.9" height="106.3" fill="#92CC5B"/>
<rect x="181.1" y="543.8" width="40.9" height="52.0" fill="#3A7ABA"/>
<rect x="316.5" y="422.2" width="30.5" height="4.5" fill="#FBBD2D"/>
<rect x="316.5" y="426.7" width="30.5" height="14.5" fill="#92CC5B"/>
<rect x="316.5" y="441.2" width="30.5" height="154.6" fill="#3A7ABA"/>
<rect x="394.0" y="422.2" width="30.5" height="2.9" fill="#FBBD2D"/>
<rect x="394.0" y="425.1" width="30.5" height="37.8" fill="#92CC5B"/>
<rect x="394.0" y="462.9" width="30.5" height="132.9" fill="#3A7ABA"/>
<rect x="471.6" y="422.2" width="30.5" height="4.7" fill="#FBBD2D"/>
<rect x="471.6" y="426.9" width="30.5" height="16.3" fill="#92CC5B"/>
<rect x="471.6" y="443.2" width="30.5" height="152.6" fill="#3A7ABA"/>
<text x="99.5" y="610.5" text-anchor="middle" font-size="9.5">Ppd-B1</text>
<text x="201.8" y="610.5" text-anchor="middle" font-size="9.5">Ppd-D1</text>
<text x="331.8" y="610.5" text-anchor="middle" font-size="9.5">Vrn-A1</text>
<text x="409.0" y="610.5" text-anchor="middle" font-size="9.5">Vrn-B1</text>
<text x="486.6" y="610.5" text-anchor="middle" font-size="9.5">Vrn-D1</text>
<rect x="52.2" y="622.8" width="4.2" height="4.2" fill="#3A7ABA"/>
<text x="59.0" y="628.0" font-size="9.1">Sensitive</text>
<rect x="118.5" y="622.8" width="4.2" height="4.2" fill="#92CC5B"/>
<text x="125.3" y="628.0" font-size="9.3">InSensitive</text>
<rect x="193.8" y="622.8" width="4.2" height="4.2" fill="#FBBD2D"/>
<text x="200.2" y="628.0" font-size="9.2">Unknown</text>
<rect x="304.4" y="623.5999999999999" width="4.2" height="4.2" fill="#3A7ABA"/>
<text x="311.0" y="628.8" font-size="9.5">Winter Type</text>
<rect x="384.4" y="623.5999999999999" width="4.2" height="4.2" fill="#92CC5B"/>
<text x="390.6" y="628.8" font-size="9.6">Spring Type</text>
<rect x="465.5" y="623.5999999999999" width="4.2" height="4.2" fill="#FBBD2D"/>
<text x="471.6" y="628.8" font-size="9.3">Unknown</text>
</g>
</g>
</svg>
</body></html>
